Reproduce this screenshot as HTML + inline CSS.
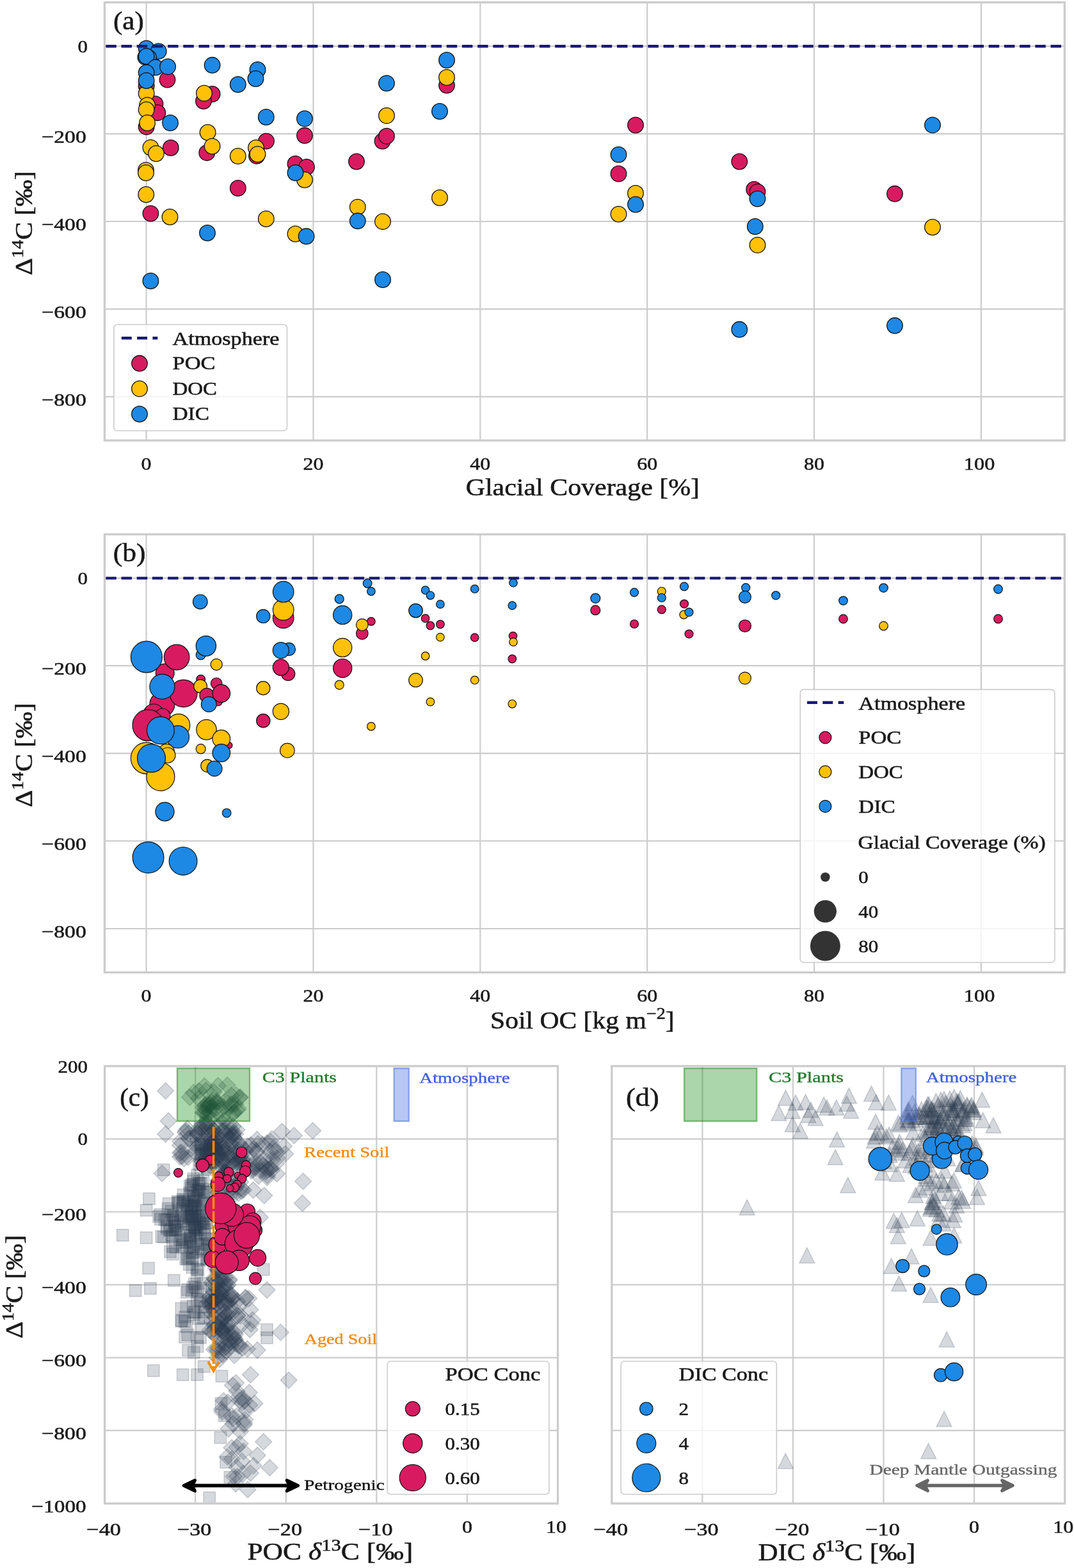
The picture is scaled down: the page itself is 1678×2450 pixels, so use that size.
<!DOCTYPE html>
<html><head><meta charset="utf-8"><title>Radiocarbon figure</title>
<style>html,body{margin:0;padding:0;background:#fff;}svg{display:block;}</style></head>
<body><svg width="1678" height="2450" viewBox="0 0 1678 2450" font-family='"Liberation Serif", serif'><line x1="228.6" y1="3.7" x2="228.6" y2="688.2" stroke="#cccccc" stroke-width="2.2"/>
<line x1="489.5" y1="3.7" x2="489.5" y2="688.2" stroke="#cccccc" stroke-width="2.2"/>
<line x1="750.3" y1="3.7" x2="750.3" y2="688.2" stroke="#cccccc" stroke-width="2.2"/>
<line x1="1011.2" y1="3.7" x2="1011.2" y2="688.2" stroke="#cccccc" stroke-width="2.2"/>
<line x1="1272.0" y1="3.7" x2="1272.0" y2="688.2" stroke="#cccccc" stroke-width="2.2"/>
<line x1="1532.9" y1="3.7" x2="1532.9" y2="688.2" stroke="#cccccc" stroke-width="2.2"/>
<line x1="163.4" y1="72.2" x2="1663.3" y2="72.2" stroke="#cccccc" stroke-width="2.2"/>
<line x1="163.4" y1="209.1" x2="1663.3" y2="209.1" stroke="#cccccc" stroke-width="2.2"/>
<line x1="163.4" y1="346.0" x2="1663.3" y2="346.0" stroke="#cccccc" stroke-width="2.2"/>
<line x1="163.4" y1="482.9" x2="1663.3" y2="482.9" stroke="#cccccc" stroke-width="2.2"/>
<line x1="163.4" y1="619.8" x2="1663.3" y2="619.8" stroke="#cccccc" stroke-width="2.2"/>
<text x="228.6" y="733.5" font-size="28" text-anchor="middle" font-weight="normal" fill="#1a1a1a" stroke="#1a1a1a" stroke-width="0.55" textLength="16.0" lengthAdjust="spacingAndGlyphs" >0</text>
<text x="489.5" y="733.5" font-size="28" text-anchor="middle" font-weight="normal" fill="#1a1a1a" stroke="#1a1a1a" stroke-width="0.55" textLength="32.0" lengthAdjust="spacingAndGlyphs" >20</text>
<text x="750.3" y="733.5" font-size="28" text-anchor="middle" font-weight="normal" fill="#1a1a1a" stroke="#1a1a1a" stroke-width="0.55" textLength="32.0" lengthAdjust="spacingAndGlyphs" >40</text>
<text x="1011.2" y="733.5" font-size="28" text-anchor="middle" font-weight="normal" fill="#1a1a1a" stroke="#1a1a1a" stroke-width="0.55" textLength="32.0" lengthAdjust="spacingAndGlyphs" >60</text>
<text x="1272.0" y="733.5" font-size="28" text-anchor="middle" font-weight="normal" fill="#1a1a1a" stroke="#1a1a1a" stroke-width="0.55" textLength="32.0" lengthAdjust="spacingAndGlyphs" >80</text>
<text x="1530.1" y="733.5" font-size="28" text-anchor="middle" font-weight="normal" fill="#1a1a1a" stroke="#1a1a1a" stroke-width="0.55" textLength="48.5" lengthAdjust="spacingAndGlyphs" >100</text>
<text x="137.0" y="82.0" font-size="28" text-anchor="end" font-weight="normal" fill="#1a1a1a" stroke="#1a1a1a" stroke-width="0.55" textLength="15.5" lengthAdjust="spacingAndGlyphs" >0</text>
<text x="134.8" y="223.0" font-size="28" text-anchor="end" font-weight="normal" fill="#1a1a1a" stroke="#1a1a1a" stroke-width="0.55" textLength="69.6" lengthAdjust="spacingAndGlyphs" >−200</text>
<text x="134.8" y="359.9" font-size="28" text-anchor="end" font-weight="normal" fill="#1a1a1a" stroke="#1a1a1a" stroke-width="0.55" textLength="69.6" lengthAdjust="spacingAndGlyphs" >−400</text>
<text x="134.8" y="496.8" font-size="28" text-anchor="end" font-weight="normal" fill="#1a1a1a" stroke="#1a1a1a" stroke-width="0.55" textLength="69.6" lengthAdjust="spacingAndGlyphs" >−600</text>
<text x="134.8" y="633.7" font-size="28" text-anchor="end" font-weight="normal" fill="#1a1a1a" stroke="#1a1a1a" stroke-width="0.55" textLength="69.6" lengthAdjust="spacingAndGlyphs" >−800</text>
<line x1="228.6" y1="834.9" x2="228.6" y2="1519.4" stroke="#cccccc" stroke-width="2.2"/>
<line x1="489.5" y1="834.9" x2="489.5" y2="1519.4" stroke="#cccccc" stroke-width="2.2"/>
<line x1="750.3" y1="834.9" x2="750.3" y2="1519.4" stroke="#cccccc" stroke-width="2.2"/>
<line x1="1011.2" y1="834.9" x2="1011.2" y2="1519.4" stroke="#cccccc" stroke-width="2.2"/>
<line x1="1272.0" y1="834.9" x2="1272.0" y2="1519.4" stroke="#cccccc" stroke-width="2.2"/>
<line x1="1532.9" y1="834.9" x2="1532.9" y2="1519.4" stroke="#cccccc" stroke-width="2.2"/>
<line x1="163.4" y1="903.4" x2="1663.3" y2="903.4" stroke="#cccccc" stroke-width="2.2"/>
<line x1="163.4" y1="1040.2" x2="1663.3" y2="1040.2" stroke="#cccccc" stroke-width="2.2"/>
<line x1="163.4" y1="1177.2" x2="1663.3" y2="1177.2" stroke="#cccccc" stroke-width="2.2"/>
<line x1="163.4" y1="1314.0" x2="1663.3" y2="1314.0" stroke="#cccccc" stroke-width="2.2"/>
<line x1="163.4" y1="1451.0" x2="1663.3" y2="1451.0" stroke="#cccccc" stroke-width="2.2"/>
<text x="228.6" y="1564.7" font-size="28" text-anchor="middle" font-weight="normal" fill="#1a1a1a" stroke="#1a1a1a" stroke-width="0.55" textLength="16.0" lengthAdjust="spacingAndGlyphs" >0</text>
<text x="489.5" y="1564.7" font-size="28" text-anchor="middle" font-weight="normal" fill="#1a1a1a" stroke="#1a1a1a" stroke-width="0.55" textLength="32.0" lengthAdjust="spacingAndGlyphs" >20</text>
<text x="750.3" y="1564.7" font-size="28" text-anchor="middle" font-weight="normal" fill="#1a1a1a" stroke="#1a1a1a" stroke-width="0.55" textLength="32.0" lengthAdjust="spacingAndGlyphs" >40</text>
<text x="1011.2" y="1564.7" font-size="28" text-anchor="middle" font-weight="normal" fill="#1a1a1a" stroke="#1a1a1a" stroke-width="0.55" textLength="32.0" lengthAdjust="spacingAndGlyphs" >60</text>
<text x="1272.0" y="1564.7" font-size="28" text-anchor="middle" font-weight="normal" fill="#1a1a1a" stroke="#1a1a1a" stroke-width="0.55" textLength="32.0" lengthAdjust="spacingAndGlyphs" >80</text>
<text x="1530.1" y="1564.7" font-size="28" text-anchor="middle" font-weight="normal" fill="#1a1a1a" stroke="#1a1a1a" stroke-width="0.55" textLength="48.5" lengthAdjust="spacingAndGlyphs" >100</text>
<text x="137.0" y="913.1" font-size="28" text-anchor="end" font-weight="normal" fill="#1a1a1a" stroke="#1a1a1a" stroke-width="0.55" textLength="15.5" lengthAdjust="spacingAndGlyphs" >0</text>
<text x="134.8" y="1054.2" font-size="28" text-anchor="end" font-weight="normal" fill="#1a1a1a" stroke="#1a1a1a" stroke-width="0.55" textLength="69.6" lengthAdjust="spacingAndGlyphs" >−200</text>
<text x="134.8" y="1191.1" font-size="28" text-anchor="end" font-weight="normal" fill="#1a1a1a" stroke="#1a1a1a" stroke-width="0.55" textLength="69.6" lengthAdjust="spacingAndGlyphs" >−400</text>
<text x="134.8" y="1328.0" font-size="28" text-anchor="end" font-weight="normal" fill="#1a1a1a" stroke="#1a1a1a" stroke-width="0.55" textLength="69.6" lengthAdjust="spacingAndGlyphs" >−600</text>
<text x="134.8" y="1464.9" font-size="28" text-anchor="end" font-weight="normal" fill="#1a1a1a" stroke="#1a1a1a" stroke-width="0.55" textLength="69.6" lengthAdjust="spacingAndGlyphs" >−800</text>
<circle cx="261.5" cy="124.6" r="12.3" fill="#D81B60" stroke="#111" stroke-width="1.3"/>
<circle cx="228.7" cy="134.2" r="12.3" fill="#D81B60" stroke="#111" stroke-width="1.3"/>
<circle cx="242.5" cy="162.4" r="12.3" fill="#D81B60" stroke="#111" stroke-width="1.3"/>
<circle cx="246.3" cy="176.2" r="12.3" fill="#D81B60" stroke="#111" stroke-width="1.3"/>
<circle cx="228.7" cy="198.2" r="12.3" fill="#D81B60" stroke="#111" stroke-width="1.3"/>
<circle cx="331.6" cy="147.0" r="12.3" fill="#D81B60" stroke="#111" stroke-width="1.3"/>
<circle cx="318.0" cy="158.0" r="12.3" fill="#D81B60" stroke="#111" stroke-width="1.3"/>
<circle cx="476.0" cy="211.8" r="12.3" fill="#D81B60" stroke="#111" stroke-width="1.3"/>
<circle cx="416.0" cy="220.6" r="12.3" fill="#D81B60" stroke="#111" stroke-width="1.3"/>
<circle cx="401.0" cy="243.7" r="12.3" fill="#D81B60" stroke="#111" stroke-width="1.3"/>
<circle cx="323.3" cy="238.7" r="12.3" fill="#D81B60" stroke="#111" stroke-width="1.3"/>
<circle cx="266.8" cy="231.0" r="12.3" fill="#D81B60" stroke="#111" stroke-width="1.3"/>
<circle cx="461.5" cy="256.0" r="12.3" fill="#D81B60" stroke="#111" stroke-width="1.3"/>
<circle cx="479.0" cy="261.0" r="12.3" fill="#D81B60" stroke="#111" stroke-width="1.3"/>
<circle cx="557.0" cy="252.5" r="12.3" fill="#D81B60" stroke="#111" stroke-width="1.3"/>
<circle cx="371.8" cy="294.0" r="12.3" fill="#D81B60" stroke="#111" stroke-width="1.3"/>
<circle cx="235.4" cy="333.6" r="12.3" fill="#D81B60" stroke="#111" stroke-width="1.3"/>
<circle cx="597.5" cy="220.6" r="12.3" fill="#D81B60" stroke="#111" stroke-width="1.3"/>
<circle cx="604.0" cy="212.7" r="12.3" fill="#D81B60" stroke="#111" stroke-width="1.3"/>
<circle cx="698.0" cy="133.3" r="12.3" fill="#D81B60" stroke="#111" stroke-width="1.3"/>
<circle cx="993.0" cy="195.5" r="12.3" fill="#D81B60" stroke="#111" stroke-width="1.3"/>
<circle cx="966.5" cy="271.5" r="12.3" fill="#D81B60" stroke="#111" stroke-width="1.3"/>
<circle cx="1155.3" cy="252.5" r="12.3" fill="#D81B60" stroke="#111" stroke-width="1.3"/>
<circle cx="1178.2" cy="295.9" r="12.3" fill="#D81B60" stroke="#111" stroke-width="1.3"/>
<circle cx="1183.5" cy="299.6" r="12.3" fill="#D81B60" stroke="#111" stroke-width="1.3"/>
<circle cx="1398.0" cy="302.8" r="12.3" fill="#D81B60" stroke="#111" stroke-width="1.3"/>
<circle cx="228.7" cy="145.9" r="12.3" fill="#FFC107" stroke="#111" stroke-width="1.3"/>
<circle cx="230.1" cy="164.5" r="12.3" fill="#FFC107" stroke="#111" stroke-width="1.3"/>
<circle cx="228.7" cy="171.4" r="12.3" fill="#FFC107" stroke="#111" stroke-width="1.3"/>
<circle cx="230.1" cy="192.0" r="12.3" fill="#FFC107" stroke="#111" stroke-width="1.3"/>
<circle cx="319.0" cy="145.7" r="12.3" fill="#FFC107" stroke="#111" stroke-width="1.3"/>
<circle cx="324.6" cy="207.0" r="12.3" fill="#FFC107" stroke="#111" stroke-width="1.3"/>
<circle cx="331.6" cy="228.6" r="12.3" fill="#FFC107" stroke="#111" stroke-width="1.3"/>
<circle cx="371.8" cy="244.0" r="12.3" fill="#FFC107" stroke="#111" stroke-width="1.3"/>
<circle cx="400.0" cy="231.0" r="12.3" fill="#FFC107" stroke="#111" stroke-width="1.3"/>
<circle cx="402.5" cy="241.0" r="12.3" fill="#FFC107" stroke="#111" stroke-width="1.3"/>
<circle cx="235.4" cy="230.6" r="12.3" fill="#FFC107" stroke="#111" stroke-width="1.3"/>
<circle cx="244.0" cy="240.0" r="12.3" fill="#FFC107" stroke="#111" stroke-width="1.3"/>
<circle cx="476.0" cy="281.0" r="12.3" fill="#FFC107" stroke="#111" stroke-width="1.3"/>
<circle cx="228.0" cy="266.0" r="12.3" fill="#FFC107" stroke="#111" stroke-width="1.3"/>
<circle cx="228.0" cy="270.0" r="12.3" fill="#FFC107" stroke="#111" stroke-width="1.3"/>
<circle cx="228.3" cy="304.0" r="12.3" fill="#FFC107" stroke="#111" stroke-width="1.3"/>
<circle cx="265.5" cy="339.0" r="12.3" fill="#FFC107" stroke="#111" stroke-width="1.3"/>
<circle cx="415.8" cy="342.0" r="12.3" fill="#FFC107" stroke="#111" stroke-width="1.3"/>
<circle cx="461.5" cy="365.5" r="12.3" fill="#FFC107" stroke="#111" stroke-width="1.3"/>
<circle cx="604.0" cy="180.7" r="12.3" fill="#FFC107" stroke="#111" stroke-width="1.3"/>
<circle cx="558.8" cy="323.6" r="12.3" fill="#FFC107" stroke="#111" stroke-width="1.3"/>
<circle cx="598.0" cy="346.2" r="12.3" fill="#FFC107" stroke="#111" stroke-width="1.3"/>
<circle cx="698.0" cy="121.0" r="12.3" fill="#FFC107" stroke="#111" stroke-width="1.3"/>
<circle cx="687.0" cy="309.0" r="12.3" fill="#FFC107" stroke="#111" stroke-width="1.3"/>
<circle cx="993.0" cy="302.0" r="12.3" fill="#FFC107" stroke="#111" stroke-width="1.3"/>
<circle cx="966.5" cy="334.6" r="12.3" fill="#FFC107" stroke="#111" stroke-width="1.3"/>
<circle cx="1183.5" cy="382.9" r="12.3" fill="#FFC107" stroke="#111" stroke-width="1.3"/>
<circle cx="1457.0" cy="355.0" r="12.3" fill="#FFC107" stroke="#111" stroke-width="1.3"/>
<circle cx="228.7" cy="75.7" r="12.3" fill="#1E88E5" stroke="#111" stroke-width="1.3"/>
<circle cx="247.7" cy="80.1" r="12.3" fill="#1E88E5" stroke="#111" stroke-width="1.3"/>
<circle cx="227.4" cy="89.4" r="12.3" fill="#1E88E5" stroke="#111" stroke-width="1.3"/>
<circle cx="232.2" cy="90.1" r="12.3" fill="#1E88E5" stroke="#111" stroke-width="1.3"/>
<circle cx="228.7" cy="88.0" r="12.3" fill="#1E88E5" stroke="#111" stroke-width="1.3"/>
<circle cx="243.2" cy="105.3" r="12.3" fill="#1E88E5" stroke="#111" stroke-width="1.3"/>
<circle cx="262.1" cy="104.2" r="12.3" fill="#1E88E5" stroke="#111" stroke-width="1.3"/>
<circle cx="228.7" cy="113.5" r="12.3" fill="#1E88E5" stroke="#111" stroke-width="1.3"/>
<circle cx="228.7" cy="126.0" r="12.3" fill="#1E88E5" stroke="#111" stroke-width="1.3"/>
<circle cx="266.0" cy="192.0" r="12.3" fill="#1E88E5" stroke="#111" stroke-width="1.3"/>
<circle cx="331.6" cy="101.8" r="12.3" fill="#1E88E5" stroke="#111" stroke-width="1.3"/>
<circle cx="371.8" cy="132.0" r="12.3" fill="#1E88E5" stroke="#111" stroke-width="1.3"/>
<circle cx="402.5" cy="109.0" r="12.3" fill="#1E88E5" stroke="#111" stroke-width="1.3"/>
<circle cx="399.5" cy="123.0" r="12.3" fill="#1E88E5" stroke="#111" stroke-width="1.3"/>
<circle cx="415.8" cy="183.0" r="12.3" fill="#1E88E5" stroke="#111" stroke-width="1.3"/>
<circle cx="476.0" cy="185.4" r="12.3" fill="#1E88E5" stroke="#111" stroke-width="1.3"/>
<circle cx="461.5" cy="270.0" r="12.3" fill="#1E88E5" stroke="#111" stroke-width="1.3"/>
<circle cx="478.6" cy="369.3" r="12.3" fill="#1E88E5" stroke="#111" stroke-width="1.3"/>
<circle cx="324.0" cy="364.0" r="12.3" fill="#1E88E5" stroke="#111" stroke-width="1.3"/>
<circle cx="235.4" cy="439.0" r="12.3" fill="#1E88E5" stroke="#111" stroke-width="1.3"/>
<circle cx="604.0" cy="130.1" r="12.3" fill="#1E88E5" stroke="#111" stroke-width="1.3"/>
<circle cx="698.0" cy="94.0" r="12.3" fill="#1E88E5" stroke="#111" stroke-width="1.3"/>
<circle cx="687.0" cy="174.0" r="12.3" fill="#1E88E5" stroke="#111" stroke-width="1.3"/>
<circle cx="558.8" cy="345.3" r="12.3" fill="#1E88E5" stroke="#111" stroke-width="1.3"/>
<circle cx="598.0" cy="437.0" r="12.3" fill="#1E88E5" stroke="#111" stroke-width="1.3"/>
<circle cx="966.5" cy="241.6" r="12.3" fill="#1E88E5" stroke="#111" stroke-width="1.3"/>
<circle cx="993.0" cy="319.5" r="12.3" fill="#1E88E5" stroke="#111" stroke-width="1.3"/>
<circle cx="1183.5" cy="310.6" r="12.3" fill="#1E88E5" stroke="#111" stroke-width="1.3"/>
<circle cx="1179.8" cy="354.0" r="12.3" fill="#1E88E5" stroke="#111" stroke-width="1.3"/>
<circle cx="1155.3" cy="514.8" r="12.3" fill="#1E88E5" stroke="#111" stroke-width="1.3"/>
<circle cx="1457.0" cy="195.4" r="12.3" fill="#1E88E5" stroke="#111" stroke-width="1.3"/>
<circle cx="1398.0" cy="508.8" r="12.3" fill="#1E88E5" stroke="#111" stroke-width="1.3"/>
<line x1="165.3" y1="72.2" x2="1662" y2="72.2" stroke="#191970" stroke-width="4.4" stroke-dasharray="16.5 7.7"/>
<rect x="177.9" y="507.2" width="270.6" height="165.8" rx="5" fill="#ffffff" fill-opacity="0.8" stroke="#cccccc" stroke-width="1.6"/>
<line x1="189.8" y1="528.3" x2="246.3" y2="528.3" stroke="#191970" stroke-width="4.6" stroke-dasharray="16 8.3"/>
<circle cx="218.0" cy="567.8" r="12.3" fill="#D81B60" stroke="#111" stroke-width="1.3"/>
<circle cx="218.0" cy="607.4" r="12.3" fill="#FFC107" stroke="#111" stroke-width="1.3"/>
<circle cx="218.0" cy="647.0" r="12.3" fill="#1E88E5" stroke="#111" stroke-width="1.3"/>
<text x="269.5" y="538.6" font-size="30" text-anchor="start" font-weight="normal" fill="#1a1a1a" stroke="#1a1a1a" stroke-width="0.55" textLength="167.0" lengthAdjust="spacingAndGlyphs" >Atmosphere</text>
<text x="269.5" y="577.3" font-size="30" text-anchor="start" font-weight="normal" fill="#1a1a1a" stroke="#1a1a1a" stroke-width="0.55" textLength="67.0" lengthAdjust="spacingAndGlyphs" >POC</text>
<text x="269.5" y="616.8" font-size="30" text-anchor="start" font-weight="normal" fill="#1a1a1a" stroke="#1a1a1a" stroke-width="0.55" textLength="69.5" lengthAdjust="spacingAndGlyphs" >DOC</text>
<text x="269.5" y="656.4" font-size="30" text-anchor="start" font-weight="normal" fill="#1a1a1a" stroke="#1a1a1a" stroke-width="0.55" textLength="57.5" lengthAdjust="spacingAndGlyphs" >DIC</text>
<circle cx="257.8" cy="1051.5" r="14.4" fill="#D81B60" stroke="#111" stroke-width="1.2"/>
<circle cx="228.9" cy="1026.4" r="24.5" fill="#1E88E5" stroke="#111" stroke-width="1.2"/>
<circle cx="276.1" cy="1027.0" r="19.8" fill="#D81B60" stroke="#111" stroke-width="1.2"/>
<circle cx="253.4" cy="1100.5" r="19.5" fill="#D81B60" stroke="#111" stroke-width="1.2"/>
<circle cx="286.7" cy="1083.5" r="21.4" fill="#D81B60" stroke="#111" stroke-width="1.2"/>
<circle cx="253.4" cy="1072.9" r="19.5" fill="#1E88E5" stroke="#111" stroke-width="1.2"/>
<circle cx="240.0" cy="1116.0" r="16.0" fill="#D81B60" stroke="#111" stroke-width="1.2"/>
<circle cx="254.0" cy="1119.0" r="12.0" fill="#D81B60" stroke="#111" stroke-width="1.2"/>
<circle cx="231.5" cy="1133.2" r="24.5" fill="#D81B60" stroke="#111" stroke-width="1.2"/>
<circle cx="279.2" cy="1133.2" r="17.6" fill="#FFC107" stroke="#111" stroke-width="1.2"/>
<circle cx="277.9" cy="1151.4" r="17.6" fill="#1E88E5" stroke="#111" stroke-width="1.2"/>
<circle cx="250.9" cy="1141.3" r="21.4" fill="#1E88E5" stroke="#111" stroke-width="1.2"/>
<circle cx="260.0" cy="1175.0" r="12.6" fill="#FFC107" stroke="#111" stroke-width="1.2"/>
<circle cx="262.0" cy="1180.0" r="12.0" fill="#FFC107" stroke="#111" stroke-width="1.2"/>
<circle cx="228.9" cy="1184.7" r="24.5" fill="#FFC107" stroke="#111" stroke-width="1.2"/>
<circle cx="250.9" cy="1213.6" r="22.0" fill="#FFC107" stroke="#111" stroke-width="1.2"/>
<circle cx="236.5" cy="1184.7" r="22.0" fill="#1E88E5" stroke="#111" stroke-width="1.2"/>
<circle cx="313.7" cy="1023.2" r="7.5" fill="#1E88E5" stroke="#111" stroke-width="1.2"/>
<circle cx="321.9" cy="1009.4" r="15.7" fill="#1E88E5" stroke="#111" stroke-width="1.2"/>
<circle cx="338.2" cy="1038.3" r="9.0" fill="#FFC107" stroke="#111" stroke-width="1.2"/>
<circle cx="313.7" cy="1061.6" r="6.9" fill="#D81B60" stroke="#111" stroke-width="1.2"/>
<circle cx="313.1" cy="1072.2" r="10.4" fill="#FFC107" stroke="#111" stroke-width="1.2"/>
<circle cx="338.2" cy="1067.8" r="8.8" fill="#D81B60" stroke="#111" stroke-width="1.2"/>
<circle cx="340.0" cy="1095.0" r="8.0" fill="#D81B60" stroke="#111" stroke-width="1.2"/>
<circle cx="323.2" cy="1086.7" r="11.3" fill="#D81B60" stroke="#111" stroke-width="1.2"/>
<circle cx="345.8" cy="1083.5" r="13.8" fill="#D81B60" stroke="#111" stroke-width="1.2"/>
<circle cx="326.3" cy="1100.5" r="11.9" fill="#1E88E5" stroke="#111" stroke-width="1.2"/>
<circle cx="322.5" cy="1140.1" r="15.7" fill="#FFC107" stroke="#111" stroke-width="1.2"/>
<circle cx="358.0" cy="1164.6" r="5.0" fill="#D81B60" stroke="#111" stroke-width="1.2"/>
<circle cx="345.8" cy="1154.5" r="13.8" fill="#FFC107" stroke="#111" stroke-width="1.2"/>
<circle cx="313.7" cy="1170.2" r="7.5" fill="#FFC107" stroke="#111" stroke-width="1.2"/>
<circle cx="345.8" cy="1176.5" r="13.8" fill="#1E88E5" stroke="#111" stroke-width="1.2"/>
<circle cx="323.8" cy="1196.6" r="10.0" fill="#FFC107" stroke="#111" stroke-width="1.2"/>
<circle cx="335.1" cy="1201.0" r="11.9" fill="#1E88E5" stroke="#111" stroke-width="1.2"/>
<circle cx="257.5" cy="1268.2" r="14.6" fill="#1E88E5" stroke="#111" stroke-width="1.2"/>
<circle cx="354.2" cy="1270.3" r="6.8" fill="#1E88E5" stroke="#111" stroke-width="1.2"/>
<circle cx="231.6" cy="1339.8" r="24.4" fill="#1E88E5" stroke="#111" stroke-width="1.2"/>
<circle cx="286.1" cy="1345.4" r="21.9" fill="#1E88E5" stroke="#111" stroke-width="1.2"/>
<circle cx="312.8" cy="940.3" r="11.3" fill="#1E88E5" stroke="#111" stroke-width="1.2"/>
<circle cx="442.7" cy="965.4" r="16.3" fill="#D81B60" stroke="#111" stroke-width="1.2"/>
<circle cx="442.7" cy="952.9" r="16.3" fill="#FFC107" stroke="#111" stroke-width="1.2"/>
<circle cx="442.7" cy="924.7" r="16.3" fill="#1E88E5" stroke="#111" stroke-width="1.2"/>
<circle cx="411.3" cy="962.9" r="10.6" fill="#1E88E5" stroke="#111" stroke-width="1.2"/>
<circle cx="451.5" cy="1014.4" r="10.0" fill="#1E88E5" stroke="#111" stroke-width="1.2"/>
<circle cx="438.9" cy="1016.2" r="12.6" fill="#1E88E5" stroke="#111" stroke-width="1.2"/>
<circle cx="450.2" cy="1052.9" r="10.6" fill="#D81B60" stroke="#111" stroke-width="1.2"/>
<circle cx="438.9" cy="1042.8" r="12.6" fill="#D81B60" stroke="#111" stroke-width="1.2"/>
<circle cx="411.3" cy="1075.2" r="10.6" fill="#FFC107" stroke="#111" stroke-width="1.2"/>
<circle cx="438.9" cy="1111.7" r="12.6" fill="#FFC107" stroke="#111" stroke-width="1.2"/>
<circle cx="411.3" cy="1126.2" r="10.6" fill="#D81B60" stroke="#111" stroke-width="1.2"/>
<circle cx="448.9" cy="1172.7" r="11.3" fill="#FFC107" stroke="#111" stroke-width="1.2"/>
<circle cx="530.2" cy="935.8" r="7.0" fill="#1E88E5" stroke="#111" stroke-width="1.2"/>
<circle cx="535.2" cy="960.9" r="14.6" fill="#1E88E5" stroke="#111" stroke-width="1.2"/>
<circle cx="535.2" cy="1011.9" r="14.6" fill="#FFC107" stroke="#111" stroke-width="1.2"/>
<circle cx="535.2" cy="1044.1" r="14.6" fill="#D81B60" stroke="#111" stroke-width="1.2"/>
<circle cx="530.2" cy="1070.2" r="7.0" fill="#FFC107" stroke="#111" stroke-width="1.2"/>
<circle cx="574.1" cy="911.4" r="6.8" fill="#1E88E5" stroke="#111" stroke-width="1.2"/>
<circle cx="579.9" cy="924.0" r="6.3" fill="#1E88E5" stroke="#111" stroke-width="1.2"/>
<circle cx="565.8" cy="989.8" r="9.3" fill="#D81B60" stroke="#111" stroke-width="1.2"/>
<circle cx="579.9" cy="971.0" r="6.3" fill="#D81B60" stroke="#111" stroke-width="1.2"/>
<circle cx="565.8" cy="976.2" r="9.3" fill="#FFC107" stroke="#111" stroke-width="1.2"/>
<circle cx="579.9" cy="1135.0" r="6.3" fill="#FFC107" stroke="#111" stroke-width="1.2"/>
<circle cx="664.6" cy="922.2" r="6.3" fill="#1E88E5" stroke="#111" stroke-width="1.2"/>
<circle cx="672.4" cy="930.3" r="6.3" fill="#1E88E5" stroke="#111" stroke-width="1.2"/>
<circle cx="649.5" cy="954.1" r="10.8" fill="#1E88E5" stroke="#111" stroke-width="1.2"/>
<circle cx="664.6" cy="966.2" r="6.3" fill="#D81B60" stroke="#111" stroke-width="1.2"/>
<circle cx="672.4" cy="977.5" r="6.3" fill="#D81B60" stroke="#111" stroke-width="1.2"/>
<circle cx="687.9" cy="944.1" r="6.3" fill="#1E88E5" stroke="#111" stroke-width="1.2"/>
<circle cx="687.9" cy="975.5" r="6.3" fill="#D81B60" stroke="#111" stroke-width="1.2"/>
<circle cx="687.9" cy="995.6" r="6.3" fill="#FFC107" stroke="#111" stroke-width="1.2"/>
<circle cx="664.6" cy="1025.0" r="6.3" fill="#FFC107" stroke="#111" stroke-width="1.2"/>
<circle cx="649.5" cy="1062.7" r="10.8" fill="#FFC107" stroke="#111" stroke-width="1.2"/>
<circle cx="672.4" cy="1096.6" r="6.3" fill="#FFC107" stroke="#111" stroke-width="1.2"/>
<circle cx="741.7" cy="920.2" r="6.3" fill="#1E88E5" stroke="#111" stroke-width="1.2"/>
<circle cx="741.7" cy="996.1" r="6.3" fill="#D81B60" stroke="#111" stroke-width="1.2"/>
<circle cx="741.7" cy="1062.7" r="6.3" fill="#FFC107" stroke="#111" stroke-width="1.2"/>
<circle cx="802.0" cy="910.7" r="6.3" fill="#1E88E5" stroke="#111" stroke-width="1.2"/>
<circle cx="800.3" cy="946.1" r="6.3" fill="#1E88E5" stroke="#111" stroke-width="1.2"/>
<circle cx="801.5" cy="993.6" r="6.3" fill="#D81B60" stroke="#111" stroke-width="1.2"/>
<circle cx="802.0" cy="1003.1" r="6.3" fill="#FFC107" stroke="#111" stroke-width="1.2"/>
<circle cx="800.3" cy="1029.5" r="6.3" fill="#D81B60" stroke="#111" stroke-width="1.2"/>
<circle cx="800.3" cy="1099.8" r="6.3" fill="#FFC107" stroke="#111" stroke-width="1.2"/>
<circle cx="930.3" cy="934.8" r="7.5" fill="#1E88E5" stroke="#111" stroke-width="1.2"/>
<circle cx="930.3" cy="953.4" r="7.5" fill="#D81B60" stroke="#111" stroke-width="1.2"/>
<circle cx="991.0" cy="925.7" r="6.5" fill="#1E88E5" stroke="#111" stroke-width="1.2"/>
<circle cx="991.0" cy="975.0" r="6.5" fill="#D81B60" stroke="#111" stroke-width="1.2"/>
<circle cx="1033.8" cy="924.0" r="6.5" fill="#FFC107" stroke="#111" stroke-width="1.2"/>
<circle cx="1033.8" cy="934.0" r="6.5" fill="#1E88E5" stroke="#111" stroke-width="1.2"/>
<circle cx="1033.8" cy="952.4" r="6.5" fill="#D81B60" stroke="#111" stroke-width="1.2"/>
<circle cx="1069.0" cy="916.4" r="6.5" fill="#1E88E5" stroke="#111" stroke-width="1.2"/>
<circle cx="1069.0" cy="943.6" r="6.5" fill="#D81B60" stroke="#111" stroke-width="1.2"/>
<circle cx="1068.4" cy="960.4" r="6.5" fill="#FFC107" stroke="#111" stroke-width="1.2"/>
<circle cx="1076.5" cy="956.6" r="6.5" fill="#1E88E5" stroke="#111" stroke-width="1.2"/>
<circle cx="1076.5" cy="990.6" r="6.5" fill="#D81B60" stroke="#111" stroke-width="1.2"/>
<circle cx="1165.2" cy="918.2" r="6.5" fill="#1E88E5" stroke="#111" stroke-width="1.2"/>
<circle cx="1163.9" cy="932.8" r="9.5" fill="#1E88E5" stroke="#111" stroke-width="1.2"/>
<circle cx="1163.9" cy="978.0" r="9.5" fill="#D81B60" stroke="#111" stroke-width="1.2"/>
<circle cx="1163.9" cy="1059.6" r="9.5" fill="#FFC107" stroke="#111" stroke-width="1.2"/>
<circle cx="1212.2" cy="930.3" r="6.5" fill="#1E88E5" stroke="#111" stroke-width="1.2"/>
<circle cx="1317.5" cy="938.6" r="6.8" fill="#1E88E5" stroke="#111" stroke-width="1.2"/>
<circle cx="1317.5" cy="967.0" r="6.8" fill="#D81B60" stroke="#111" stroke-width="1.2"/>
<circle cx="1380.5" cy="918.6" r="6.8" fill="#1E88E5" stroke="#111" stroke-width="1.2"/>
<circle cx="1380.5" cy="978.0" r="6.8" fill="#FFC107" stroke="#111" stroke-width="1.2"/>
<circle cx="1559.5" cy="920.5" r="6.8" fill="#1E88E5" stroke="#111" stroke-width="1.2"/>
<circle cx="1559.5" cy="967.0" r="6.8" fill="#D81B60" stroke="#111" stroke-width="1.2"/>
<line x1="165.3" y1="903.4" x2="1662" y2="903.4" stroke="#191970" stroke-width="4.4" stroke-dasharray="16.5 7.7"/>
<rect x="1250.3" y="1077.4" width="397.6" height="426.3" rx="5" fill="#ffffff" fill-opacity="0.8" stroke="#cccccc" stroke-width="1.6"/>
<line x1="1261" y1="1097.8" x2="1318.3" y2="1097.8" stroke="#191970" stroke-width="4.6" stroke-dasharray="16 8.3"/>
<circle cx="1289.4" cy="1152.4" r="9.5" fill="#D81B60" stroke="#111" stroke-width="1.2"/>
<circle cx="1289.4" cy="1205.9" r="9.5" fill="#FFC107" stroke="#111" stroke-width="1.2"/>
<circle cx="1289.4" cy="1259.9" r="9.5" fill="#1E88E5" stroke="#111" stroke-width="1.2"/>
<text x="1341.3" y="1109.2" font-size="30" text-anchor="start" font-weight="normal" fill="#1a1a1a" stroke="#1a1a1a" stroke-width="0.55" textLength="167.0" lengthAdjust="spacingAndGlyphs" >Atmosphere</text>
<text x="1341.3" y="1161.8" font-size="30" text-anchor="start" font-weight="normal" fill="#1a1a1a" stroke="#1a1a1a" stroke-width="0.55" textLength="67.0" lengthAdjust="spacingAndGlyphs" >POC</text>
<text x="1341.3" y="1215.9" font-size="30" text-anchor="start" font-weight="normal" fill="#1a1a1a" stroke="#1a1a1a" stroke-width="0.55" textLength="69.5" lengthAdjust="spacingAndGlyphs" >DOC</text>
<text x="1341.3" y="1269.9" font-size="30" text-anchor="start" font-weight="normal" fill="#1a1a1a" stroke="#1a1a1a" stroke-width="0.55" textLength="57.5" lengthAdjust="spacingAndGlyphs" >DIC</text>
<text x="1340.5" y="1325.9" font-size="30" text-anchor="start" font-weight="normal" fill="#1a1a1a" stroke="#1a1a1a" stroke-width="0.55" textLength="293.3" lengthAdjust="spacingAndGlyphs" >Glacial Coverage (%)</text>
<circle cx="1289.4" cy="1370.5" r="7.3" fill="#333333" stroke="#111" stroke-width="0"/>
<text x="1341.3" y="1380.1" font-size="28" text-anchor="start" font-weight="normal" fill="#1a1a1a" stroke="#1a1a1a" stroke-width="0.55" textLength="15.5" lengthAdjust="spacingAndGlyphs" >0</text>
<circle cx="1289.4" cy="1424.0" r="17.6" fill="#333333" stroke="#111" stroke-width="0"/>
<text x="1341.3" y="1433.6" font-size="28" text-anchor="start" font-weight="normal" fill="#1a1a1a" stroke="#1a1a1a" stroke-width="0.55" textLength="31.0" lengthAdjust="spacingAndGlyphs" >40</text>
<circle cx="1289.4" cy="1478.0" r="23.5" fill="#333333" stroke="#111" stroke-width="0"/>
<text x="1341.3" y="1487.6" font-size="28" text-anchor="start" font-weight="normal" fill="#1a1a1a" stroke="#1a1a1a" stroke-width="0.55" textLength="31.0" lengthAdjust="spacingAndGlyphs" >80</text>
<text x="177.0" y="45.6" font-size="40" fill="#1a1a1a" stroke="#1a1a1a" stroke-width="0.55" textLength="47.8" lengthAdjust="spacingAndGlyphs">(a)</text>
<text x="176.7" y="876.8" font-size="40" fill="#1a1a1a" stroke="#1a1a1a" stroke-width="0.55" textLength="50.9" lengthAdjust="spacingAndGlyphs">(b)</text>
<text transform="translate(50.4,348.5) rotate(-90)" font-size="38" text-anchor="middle" fill="#1a1a1a" stroke="#1a1a1a" stroke-width="0.55" textLength="163.0" lengthAdjust="spacingAndGlyphs">Δ<tspan font-size="26" dy="-14">14</tspan><tspan dy="14">C</tspan> [‰]</text>
<text transform="translate(50.4,1179.7) rotate(-90)" font-size="38" text-anchor="middle" fill="#1a1a1a" stroke="#1a1a1a" stroke-width="0.55" textLength="163.0" lengthAdjust="spacingAndGlyphs">Δ<tspan font-size="26" dy="-14">14</tspan><tspan dy="14">C</tspan> [‰]</text>
<text x="727.7" y="774.4" font-size="37" text-anchor="start" font-weight="normal" fill="#1a1a1a" stroke="#1a1a1a" stroke-width="0.55" textLength="365.4" lengthAdjust="spacingAndGlyphs" >Glacial Coverage [%]</text>
<text x="766" y="1607" font-size="37" fill="#1a1a1a" stroke="#1a1a1a" stroke-width="0.55" textLength="287.6" lengthAdjust="spacingAndGlyphs">Soil OC [kg m<tspan font-size="25" dy="-15">−2</tspan><tspan dy="15">]</tspan></text>
<line x1="305.2" y1="1665.8" x2="305.2" y2="2349.2" stroke="#cccccc" stroke-width="2.2"/>
<line x1="446.8" y1="1665.8" x2="446.8" y2="2349.2" stroke="#cccccc" stroke-width="2.2"/>
<line x1="588.3" y1="1665.8" x2="588.3" y2="2349.2" stroke="#cccccc" stroke-width="2.2"/>
<line x1="729.9" y1="1665.8" x2="729.9" y2="2349.2" stroke="#cccccc" stroke-width="2.2"/>
<line x1="163.6" y1="1779.6" x2="871.5" y2="1779.6" stroke="#cccccc" stroke-width="2.2"/>
<line x1="163.6" y1="1893.5" x2="871.5" y2="1893.5" stroke="#cccccc" stroke-width="2.2"/>
<line x1="163.6" y1="2007.4" x2="871.5" y2="2007.4" stroke="#cccccc" stroke-width="2.2"/>
<line x1="163.6" y1="2121.3" x2="871.5" y2="2121.3" stroke="#cccccc" stroke-width="2.2"/>
<line x1="163.6" y1="2235.2" x2="871.5" y2="2235.2" stroke="#cccccc" stroke-width="2.2"/>
<text x="162.1" y="2398.8" font-size="28" text-anchor="middle" font-weight="normal" fill="#1a1a1a" stroke="#1a1a1a" stroke-width="0.55" textLength="53.5" lengthAdjust="spacingAndGlyphs" >−40</text>
<text x="303.7" y="2398.8" font-size="28" text-anchor="middle" font-weight="normal" fill="#1a1a1a" stroke="#1a1a1a" stroke-width="0.55" textLength="53.5" lengthAdjust="spacingAndGlyphs" >−30</text>
<text x="445.3" y="2398.8" font-size="28" text-anchor="middle" font-weight="normal" fill="#1a1a1a" stroke="#1a1a1a" stroke-width="0.55" textLength="53.5" lengthAdjust="spacingAndGlyphs" >−20</text>
<text x="586.8" y="2398.8" font-size="28" text-anchor="middle" font-weight="normal" fill="#1a1a1a" stroke="#1a1a1a" stroke-width="0.55" textLength="53.5" lengthAdjust="spacingAndGlyphs" >−10</text>
<text x="729.9" y="2395.2" font-size="28" text-anchor="middle" font-weight="normal" fill="#1a1a1a" stroke="#1a1a1a" stroke-width="0.55" textLength="16.0" lengthAdjust="spacingAndGlyphs" >0</text>
<text x="869.0" y="2395.2" font-size="28" text-anchor="middle" font-weight="normal" fill="#1a1a1a" stroke="#1a1a1a" stroke-width="0.55" textLength="32.0" lengthAdjust="spacingAndGlyphs" >10</text>
<line x1="1097.4" y1="1665.8" x2="1097.4" y2="2349.2" stroke="#cccccc" stroke-width="2.2"/>
<line x1="1239.0" y1="1665.8" x2="1239.0" y2="2349.2" stroke="#cccccc" stroke-width="2.2"/>
<line x1="1380.5" y1="1665.8" x2="1380.5" y2="2349.2" stroke="#cccccc" stroke-width="2.2"/>
<line x1="1522.1" y1="1665.8" x2="1522.1" y2="2349.2" stroke="#cccccc" stroke-width="2.2"/>
<line x1="955.8" y1="1779.6" x2="1663.7" y2="1779.6" stroke="#cccccc" stroke-width="2.2"/>
<line x1="955.8" y1="1893.5" x2="1663.7" y2="1893.5" stroke="#cccccc" stroke-width="2.2"/>
<line x1="955.8" y1="2007.4" x2="1663.7" y2="2007.4" stroke="#cccccc" stroke-width="2.2"/>
<line x1="955.8" y1="2121.3" x2="1663.7" y2="2121.3" stroke="#cccccc" stroke-width="2.2"/>
<line x1="955.8" y1="2235.2" x2="1663.7" y2="2235.2" stroke="#cccccc" stroke-width="2.2"/>
<text x="954.3" y="2398.8" font-size="28" text-anchor="middle" font-weight="normal" fill="#1a1a1a" stroke="#1a1a1a" stroke-width="0.55" textLength="53.5" lengthAdjust="spacingAndGlyphs" >−40</text>
<text x="1095.9" y="2398.8" font-size="28" text-anchor="middle" font-weight="normal" fill="#1a1a1a" stroke="#1a1a1a" stroke-width="0.55" textLength="53.5" lengthAdjust="spacingAndGlyphs" >−30</text>
<text x="1237.5" y="2398.8" font-size="28" text-anchor="middle" font-weight="normal" fill="#1a1a1a" stroke="#1a1a1a" stroke-width="0.55" textLength="53.5" lengthAdjust="spacingAndGlyphs" >−20</text>
<text x="1379.0" y="2398.8" font-size="28" text-anchor="middle" font-weight="normal" fill="#1a1a1a" stroke="#1a1a1a" stroke-width="0.55" textLength="53.5" lengthAdjust="spacingAndGlyphs" >−10</text>
<text x="1522.1" y="2395.2" font-size="28" text-anchor="middle" font-weight="normal" fill="#1a1a1a" stroke="#1a1a1a" stroke-width="0.55" textLength="16.0" lengthAdjust="spacingAndGlyphs" >0</text>
<text x="1661.2" y="2395.2" font-size="28" text-anchor="middle" font-weight="normal" fill="#1a1a1a" stroke="#1a1a1a" stroke-width="0.55" textLength="32.0" lengthAdjust="spacingAndGlyphs" >10</text>
<text x="137.0" y="1675.5" font-size="28" text-anchor="end" font-weight="normal" fill="#1a1a1a" stroke="#1a1a1a" stroke-width="0.55" textLength="46.5" lengthAdjust="spacingAndGlyphs" >200</text>
<text x="137.0" y="1789.4" font-size="28" text-anchor="end" font-weight="normal" fill="#1a1a1a" stroke="#1a1a1a" stroke-width="0.55" textLength="15.5" lengthAdjust="spacingAndGlyphs" >0</text>
<text x="134.8" y="1907.4" font-size="28" text-anchor="end" font-weight="normal" fill="#1a1a1a" stroke="#1a1a1a" stroke-width="0.55" textLength="69.6" lengthAdjust="spacingAndGlyphs" >−200</text>
<text x="134.8" y="2021.3" font-size="28" text-anchor="end" font-weight="normal" fill="#1a1a1a" stroke="#1a1a1a" stroke-width="0.55" textLength="69.6" lengthAdjust="spacingAndGlyphs" >−400</text>
<text x="134.8" y="2135.2" font-size="28" text-anchor="end" font-weight="normal" fill="#1a1a1a" stroke="#1a1a1a" stroke-width="0.55" textLength="69.6" lengthAdjust="spacingAndGlyphs" >−600</text>
<text x="134.8" y="2249.1" font-size="28" text-anchor="end" font-weight="normal" fill="#1a1a1a" stroke="#1a1a1a" stroke-width="0.55" textLength="69.6" lengthAdjust="spacingAndGlyphs" >−800</text>
<text x="134.8" y="2363.0" font-size="28" text-anchor="end" font-weight="normal" fill="#1a1a1a" stroke="#1a1a1a" stroke-width="0.55" textLength="85.5" lengthAdjust="spacingAndGlyphs" >−1000</text>
<text transform="translate(34.6,2010.4) rotate(-90)" font-size="38" text-anchor="middle" fill="#1a1a1a" stroke="#1a1a1a" stroke-width="0.55" textLength="161.5" lengthAdjust="spacingAndGlyphs">Δ<tspan font-size="26" dy="-14">14</tspan><tspan dy="14">C</tspan> [‰]</text>
<text x="386.4" y="2436.7" font-size="37" fill="#1a1a1a" stroke="#1a1a1a" stroke-width="0.55" textLength="258.8" lengthAdjust="spacingAndGlyphs">POC <tspan font-style="italic">δ</tspan><tspan font-size="26" dy="-14">13</tspan><tspan dy="14">C</tspan> [‰]</text>
<text x="1184.4" y="2437.7" font-size="37" fill="#1a1a1a" stroke="#1a1a1a" stroke-width="0.55" textLength="245.9" lengthAdjust="spacingAndGlyphs">DIC <tspan font-style="italic">δ</tspan><tspan font-size="26" dy="-14">13</tspan><tspan dy="14">C</tspan> [‰]</text>
<g fill="#2c3e50" fill-opacity="0.2" stroke="#2c3e50" stroke-opacity="0.2" stroke-width="1.5">
<rect x="182.5" y="1920.8" width="18.4" height="18.4"/>
<rect x="219.4" y="1924.8" width="18.4" height="18.4"/>
<rect x="222.8" y="1972.4" width="18.4" height="18.4"/>
<rect x="202.4" y="2007.4" width="18.4" height="18.4"/>
<rect x="225.8" y="2003.8" width="18.4" height="18.4"/>
<rect x="223.8" y="1863.8" width="18.4" height="18.4"/>
<rect x="219.4" y="1881.8" width="18.4" height="18.4"/>
<rect x="246.5" y="1818.6" width="18.4" height="18.4"/>
<rect x="262.6" y="1991.4" width="18.4" height="18.4"/>
<rect x="230.6" y="2132.4" width="18.4" height="18.4"/>
<rect x="276.5" y="2138.8" width="18.4" height="18.4"/>
<rect x="298.9" y="2138.8" width="18.4" height="18.4"/>
<rect x="309.6" y="2126.0" width="18.4" height="18.4"/>
<rect x="318.1" y="2331.1" width="18.4" height="18.4"/>
<rect x="407.8" y="2068.4" width="18.4" height="18.4"/>
<rect x="407.8" y="2081.2" width="18.4" height="18.4"/>
<rect x="337.3" y="2141.0" width="18.4" height="18.4"/>
<rect x="336.3" y="2183.7" width="18.4" height="18.4"/>
<rect x="341.6" y="2202.9" width="18.4" height="18.4"/>
<rect x="335.2" y="2237.1" width="18.4" height="18.4"/>
<rect x="343.8" y="2275.5" width="18.4" height="18.4"/>
<rect x="350.2" y="2299.0" width="18.4" height="18.4"/>
<rect x="402.5" y="1974.3" width="18.4" height="18.4"/>
<path d="M258.6 1691.6L271.6 1704.6L258.6 1717.6L245.6 1704.6Z"/>
<path d="M263.1 1738.5L276.1 1751.5L263.1 1764.5L250.1 1751.5Z"/>
<path d="M258.6 1758.9L271.6 1771.9L258.6 1784.9L245.6 1771.9Z"/>
<path d="M292.8 1750.4L305.8 1763.4L292.8 1776.4L279.8 1763.4Z"/>
<path d="M281.5 1776.4L294.5 1789.4L281.5 1802.4L268.5 1789.4Z"/>
<path d="M281.5 1794.5L294.5 1807.5L281.5 1820.5L268.5 1807.5Z"/>
<path d="M253.2 1820.5L266.2 1833.5L253.2 1846.5L240.2 1833.5Z"/>
<path d="M488.6 1753.7L501.6 1766.7L488.6 1779.7L475.6 1766.7Z"/>
<path d="M473.6 1832.7L486.6 1845.7L473.6 1858.7L460.6 1845.7Z"/>
<path d="M472.5 1866.9L485.5 1879.9L472.5 1892.9L459.5 1879.9Z"/>
<path d="M412.8 1855.1L425.8 1868.1L412.8 1881.1L399.8 1868.1Z"/>
<path d="M395.7 1846.6L408.7 1859.6L395.7 1872.6L382.7 1859.6Z"/>
<path d="M440.5 1755.0L453.5 1768.0L440.5 1781.0L427.5 1768.0Z"/>
<path d="M459.4 1761.3L472.4 1774.3L459.4 1787.3L446.4 1774.3Z"/>
<path d="M417.0 2002.6L430.0 2015.6L417.0 2028.6L404.0 2015.6Z"/>
<path d="M438.4 2068.8L451.4 2081.8L438.4 2094.8L425.4 2081.8Z"/>
<path d="M451.2 2143.6L464.2 2156.6L451.2 2169.6L438.2 2156.6Z"/>
<path d="M394.6 2049.6L407.6 2062.6L394.6 2075.6L381.6 2062.6Z"/>
<path d="M402.1 2096.6L415.1 2109.6L402.1 2122.6L389.1 2109.6Z"/>
<path d="M391.4 2135.0L404.4 2148.0L391.4 2161.0L378.4 2148.0Z"/>
<path d="M411.7 2239.7L424.7 2252.7L411.7 2265.7L398.7 2252.7Z"/>
<path d="M375.4 2223.7L388.4 2236.7L375.4 2249.7L362.4 2236.7Z"/>
<path d="M402.1 2261.1L415.1 2274.1L402.1 2287.1L389.1 2274.1Z"/>
<path d="M421.3 2280.3L434.3 2293.3L421.3 2306.3L408.3 2293.3Z"/>
<path d="M387.1 2314.5L400.1 2327.5L387.1 2340.5L374.1 2327.5Z"/>
<path d="M355.1 2263.2L368.1 2276.2L355.1 2289.2L342.1 2276.2Z"/>
<path d="M380.7 2254.7L393.7 2267.7L380.7 2280.7L367.7 2267.7Z"/>
<path d="M391.4 2288.8L404.4 2301.8L391.4 2314.8L378.4 2301.8Z"/>
<path d="M385.0 2190.6L398.0 2203.6L385.0 2216.6L372.0 2203.6Z"/>
<path d="M397.8 2179.9L410.8 2192.9L397.8 2205.9L384.8 2192.9Z"/>
<path d="M370.0 2160.7L383.0 2173.7L370.0 2186.7L357.0 2173.7Z"/>
<path d="M389.3 2162.8L402.3 2175.8L389.3 2188.8L376.3 2175.8Z"/>
<path d="M406.3 1889.3L419.3 1902.3L406.3 1915.3L393.3 1902.3Z"/>
<path d="M396.0 2277.0L409.0 2290.0L396.0 2303.0L383.0 2290.0Z"/>
<path d="M362.0 2249.0L375.0 2262.0L362.0 2275.0L349.0 2262.0Z"/>
<path d="M333.8 1705.6L346.8 1718.6L333.8 1731.6L320.8 1718.6Z"/>
<path d="M375.3 1701.5L388.3 1714.5L375.3 1727.5L362.3 1714.5Z"/>
<path d="M338.7 1706.8L351.7 1719.8L338.7 1732.9L325.7 1719.8Z"/>
<path d="M310.3 1703.5L323.3 1716.5L310.3 1729.5L297.2 1716.5Z"/>
<path d="M349.4 1715.9L362.4 1728.9L349.4 1741.9L336.4 1728.9Z"/>
<path d="M302.3 1694.3L315.3 1707.3L302.3 1720.4L289.3 1707.3Z"/>
<path d="M355.0 1682.8L368.0 1695.8L355.0 1708.9L342.0 1695.8Z"/>
<path d="M351.5 1708.1L364.6 1721.1L351.5 1734.1L338.5 1721.1Z"/>
<path d="M340.5 1683.6L353.5 1696.6L340.5 1709.6L327.5 1696.6Z"/>
<path d="M310.7 1691.6L323.7 1704.6L310.7 1717.7L297.7 1704.6Z"/>
<path d="M296.6 1701.4L309.7 1714.4L296.6 1727.4L283.6 1714.4Z"/>
<path d="M332.8 1718.1L345.8 1731.1L332.8 1744.1L319.8 1731.1Z"/>
<path d="M339.7 1709.2L352.7 1722.2L339.7 1735.2L326.7 1722.2Z"/>
<path d="M338.0 1710.1L351.0 1723.1L338.0 1736.2L325.0 1723.1Z"/>
<path d="M334.2 1693.2L347.3 1706.2L334.2 1719.2L321.2 1706.2Z"/>
<path d="M367.9 1712.1L380.9 1725.1L367.9 1738.2L354.9 1725.1Z"/>
<path d="M321.7 1691.1L334.8 1704.1L321.7 1717.1L308.7 1704.1Z"/>
<path d="M319.4 1684.1L332.4 1697.1L319.4 1710.1L306.4 1697.1Z"/>
<path d="M361.4 1698.6L374.4 1711.6L361.4 1724.6L348.4 1711.6Z"/>
<path d="M368.5 1698.0L381.5 1711.0L368.5 1724.0L355.5 1711.0Z"/>
<path d="M374.1 1701.7L387.1 1714.7L374.1 1727.7L361.1 1714.7Z"/>
<path d="M371.8 1718.9L384.8 1731.9L371.8 1744.9L358.8 1731.9Z"/>
<path d="M317.4 1725.9L330.4 1738.9L317.4 1751.9L304.4 1738.9Z"/>
<path d="M359.7 1715.1L372.7 1728.1L359.7 1741.1L346.7 1728.1Z"/>
<path d="M318.2 1717.0L331.2 1730.0L318.2 1743.0L305.2 1730.0Z"/>
<path d="M320.1 1714.4L333.1 1727.4L320.1 1740.4L307.1 1727.4Z"/>
<path d="M360.8 1712.3L373.8 1725.3L360.8 1738.3L347.8 1725.3Z"/>
<path d="M346.6 1720.4L359.6 1733.4L346.6 1746.4L333.5 1733.4Z"/>
<path d="M324.4 1728.9L337.4 1742.0L324.4 1755.0L311.4 1742.0Z"/>
<path d="M320.9 1726.3L333.9 1739.3L320.9 1752.3L307.8 1739.3Z"/>
<path d="M320.0 1719.6L333.0 1732.6L320.0 1745.6L307.0 1732.6Z"/>
<path d="M325.8 1715.1L338.8 1728.1L325.8 1741.1L312.8 1728.1Z"/>
<path d="M331.2 1733.5L344.3 1746.5L331.2 1759.6L318.2 1746.5Z"/>
<path d="M325.6 1718.8L338.7 1731.8L325.6 1744.8L312.6 1731.8Z"/>
<path d="M364.3 1726.2L377.3 1739.3L364.3 1752.3L351.3 1739.3Z"/>
<path d="M325.8 1714.7L338.8 1727.7L325.8 1740.8L312.8 1727.7Z"/>
<path d="M359.4 1716.9L372.4 1729.9L359.4 1742.9L346.4 1729.9Z"/>
<path d="M330.8 1709.2L343.8 1722.2L330.8 1735.2L317.8 1722.2Z"/>
<path d="M318.4 1724.5L331.4 1737.5L318.4 1750.5L305.4 1737.5Z"/>
<path d="M327.6 1725.0L340.6 1738.0L327.6 1751.0L314.6 1738.0Z"/>
<path d="M335.3 1720.6L348.3 1733.6L335.3 1746.6L322.3 1733.6Z"/>
<path d="M370.5 1721.5L383.6 1734.5L370.5 1747.5L357.5 1734.5Z"/>
<path d="M347.5 1733.0L360.5 1746.0L347.5 1759.0L334.5 1746.0Z"/>
<path d="M324.0 1711.6L337.0 1724.6L324.0 1737.6L311.0 1724.6Z"/>
<path d="M328.0 1712.7L341.0 1725.7L328.0 1738.7L315.0 1725.7Z"/>
<path d="M365.9 1725.1L378.9 1738.1L365.9 1751.1L352.9 1738.1Z"/>
<path d="M289.5 1756.4L302.5 1769.4L289.5 1782.4L276.5 1769.4Z"/>
<path d="M283.6 1787.6L296.6 1800.6L283.6 1813.6L270.6 1800.6Z"/>
<path d="M284.2 1793.8L297.2 1806.8L284.2 1819.8L271.2 1806.8Z"/>
<path d="M295.1 1766.2L308.1 1779.3L295.1 1792.3L282.1 1779.3Z"/>
<path d="M281.6 1788.4L294.6 1801.5L281.6 1814.5L268.6 1801.5Z"/>
<path d="M293.9 1795.3L306.9 1808.3L293.9 1821.3L280.9 1808.3Z"/>
<path d="M295.7 1765.6L308.7 1778.6L295.7 1791.6L282.6 1778.6Z"/>
<path d="M290.3 1754.1L303.3 1767.1L290.3 1780.2L277.3 1767.1Z"/>
<path d="M281.6 1770.2L294.6 1783.2L281.6 1796.2L268.6 1783.2Z"/>
<path d="M294.3 1757.8L307.3 1770.8L294.3 1783.9L281.3 1770.8Z"/>
<path d="M287.6 1797.3L300.6 1810.3L287.6 1823.3L274.6 1810.3Z"/>
<path d="M298.1 1781.4L311.1 1794.4L298.1 1807.4L285.1 1794.4Z"/>
<path d="M304.8 1787.3L317.8 1800.4L304.8 1813.4L291.8 1800.4Z"/>
<rect x="297.2" y="1766.4" width="18.4" height="18.4"/>
<rect x="314.5" y="1798.8" width="18.4" height="18.4"/>
<rect x="307.5" y="1794.9" width="18.4" height="18.4"/>
<rect x="326.2" y="1774.5" width="18.4" height="18.4"/>
<path d="M335.1 1782.5L348.1 1795.5L335.1 1808.5L322.1 1795.5Z"/>
<path d="M308.2 1758.5L321.2 1771.5L308.2 1784.6L295.2 1771.5Z"/>
<path d="M330.2 1768.5L343.2 1781.5L330.2 1794.5L317.2 1781.5Z"/>
<rect x="310.7" y="1806.5" width="18.4" height="18.4"/>
<path d="M322.7 1778.1L335.7 1791.1L322.7 1804.1L309.7 1791.1Z"/>
<rect x="316.4" y="1779.4" width="18.4" height="18.4"/>
<path d="M332.1 1789.2L345.1 1802.2L332.1 1815.2L319.1 1802.2Z"/>
<rect x="305.6" y="1794.3" width="18.4" height="18.4"/>
<path d="M322.7 1796.3L335.7 1809.3L322.7 1822.3L309.7 1809.3Z"/>
<rect x="318.6" y="1776.4" width="18.4" height="18.4"/>
<rect x="306.6" y="1793.4" width="18.4" height="18.4"/>
<rect x="317.6" y="1803.9" width="18.4" height="18.4"/>
<path d="M335.7 1768.2L348.7 1781.2L335.7 1794.2L322.7 1781.2Z"/>
<path d="M311.6 1749.2L324.6 1762.2L311.6 1775.2L298.5 1762.2Z"/>
<rect x="324.9" y="1807.3" width="18.4" height="18.4"/>
<path d="M310.1 1773.2L323.1 1786.2L310.1 1799.3L297.1 1786.2Z"/>
<path d="M317.8 1778.5L330.8 1791.5L317.8 1804.5L304.8 1791.5Z"/>
<path d="M329.8 1803.0L342.8 1816.0L329.8 1829.0L316.8 1816.0Z"/>
<path d="M315.5 1802.0L328.5 1815.0L315.5 1828.0L302.5 1815.0Z"/>
<path d="M329.5 1782.4L342.5 1795.4L329.5 1808.4L316.5 1795.4Z"/>
<rect x="318.2" y="1785.7" width="18.4" height="18.4"/>
<path d="M318.6 1753.4L331.6 1766.4L318.6 1779.4L305.6 1766.4Z"/>
<rect x="303.3" y="1753.5" width="18.4" height="18.4"/>
<path d="M307.9 1779.7L320.9 1792.7L307.9 1805.7L294.9 1792.7Z"/>
<rect x="329.3" y="1794.8" width="18.4" height="18.4"/>
<rect x="324.5" y="1762.3" width="18.4" height="18.4"/>
<rect x="322.0" y="1783.4" width="18.4" height="18.4"/>
<path d="M310.4 1759.7L323.5 1772.7L310.4 1785.7L297.4 1772.7Z"/>
<rect x="314.2" y="1814.8" width="18.4" height="18.4"/>
<rect x="309.0" y="1803.0" width="18.4" height="18.4"/>
<path d="M330.0 1748.9L343.0 1761.9L330.0 1774.9L317.0 1761.9Z"/>
<rect x="301.9" y="1810.2" width="18.4" height="18.4"/>
<path d="M317.6 1782.2L330.6 1795.2L317.6 1808.2L304.6 1795.2Z"/>
<rect x="311.5" y="1792.3" width="18.4" height="18.4"/>
<path d="M308.4 1757.4L321.5 1770.4L308.4 1783.4L295.4 1770.4Z"/>
<path d="M323.3 1799.1L336.3 1812.1L323.3 1825.1L310.3 1812.1Z"/>
<rect x="304.2" y="1797.4" width="18.4" height="18.4"/>
<path d="M316.5 1745.3L329.6 1758.3L316.5 1771.3L303.5 1758.3Z"/>
<path d="M316.3 1771.0L329.3 1784.0L316.3 1797.0L303.3 1784.0Z"/>
<rect x="312.3" y="1745.0" width="18.4" height="18.4"/>
<path d="M319.4 1741.7L332.5 1754.7L319.4 1767.7L306.4 1754.7Z"/>
<path d="M328.7 1808.6L341.7 1821.6L328.7 1834.6L315.7 1821.6Z"/>
<path d="M309.4 1778.2L322.4 1791.3L309.4 1804.3L296.3 1791.3Z"/>
<rect x="328.8" y="1780.2" width="18.4" height="18.4"/>
<path d="M331.3 1772.4L344.3 1785.4L331.3 1798.4L318.3 1785.4Z"/>
<rect x="324.7" y="1785.5" width="18.4" height="18.4"/>
<path d="M322.8 1803.1L335.8 1816.1L322.8 1829.1L309.8 1816.1Z"/>
<rect x="306.0" y="1771.8" width="18.4" height="18.4"/>
<path d="M315.0 1749.7L328.0 1762.7L315.0 1775.7L302.0 1762.7Z"/>
<rect x="315.4" y="1758.1" width="18.4" height="18.4"/>
<rect x="312.9" y="1788.8" width="18.4" height="18.4"/>
<path d="M323.4 1742.3L336.4 1755.3L323.4 1768.3L310.4 1755.3Z"/>
<rect x="314.4" y="1818.0" width="18.4" height="18.4"/>
<rect x="312.5" y="1795.3" width="18.4" height="18.4"/>
<path d="M337.5 1773.9L350.5 1786.9L337.5 1799.9L324.5 1786.9Z"/>
<rect x="304.5" y="1778.8" width="18.4" height="18.4"/>
<path d="M316.2 1807.5L329.2 1820.5L316.2 1833.5L303.2 1820.5Z"/>
<path d="M322.9 1747.2L335.9 1760.3L322.9 1773.3L309.9 1760.3Z"/>
<path d="M358.1 1814.7L371.1 1827.7L358.1 1840.7L345.1 1827.7Z"/>
<path d="M332.7 1802.5L345.7 1815.5L332.7 1828.5L319.7 1815.5Z"/>
<path d="M337.8 1794.7L350.8 1807.7L337.8 1820.7L324.8 1807.7Z"/>
<path d="M342.7 1766.8L355.8 1779.8L342.7 1792.9L329.7 1779.8Z"/>
<path d="M358.2 1745.8L371.2 1758.8L358.2 1771.8L345.2 1758.8Z"/>
<path d="M364.0 1747.3L377.0 1760.3L364.0 1773.3L351.0 1760.3Z"/>
<path d="M352.5 1758.0L365.6 1771.0L352.5 1784.1L339.5 1771.0Z"/>
<path d="M336.3 1781.5L349.3 1794.5L336.3 1807.6L323.3 1794.5Z"/>
<path d="M348.7 1768.6L361.7 1781.6L348.7 1794.6L335.7 1781.6Z"/>
<path d="M347.5 1781.5L360.5 1794.5L347.5 1807.5L334.5 1794.5Z"/>
<path d="M334.3 1754.1L347.3 1767.2L334.3 1780.2L321.3 1767.2Z"/>
<path d="M358.8 1790.6L371.8 1803.6L358.8 1816.6L345.8 1803.6Z"/>
<path d="M353.5 1808.5L366.5 1821.5L353.5 1834.5L340.5 1821.5Z"/>
<path d="M357.8 1809.0L370.8 1822.0L357.8 1835.0L344.8 1822.0Z"/>
<path d="M338.1 1799.2L351.1 1812.2L338.1 1825.2L325.1 1812.2Z"/>
<path d="M342.4 1763.5L355.4 1776.5L342.4 1789.5L329.4 1776.5Z"/>
<path d="M333.0 1757.1L346.0 1770.1L333.0 1783.1L320.0 1770.1Z"/>
<path d="M363.8 1758.8L376.8 1771.8L363.8 1784.8L350.8 1771.8Z"/>
<path d="M347.9 1803.3L360.9 1816.4L347.9 1829.4L334.9 1816.4Z"/>
<path d="M332.6 1770.8L345.6 1783.8L332.6 1796.8L319.5 1783.8Z"/>
<path d="M336.4 1794.3L349.5 1807.3L336.4 1820.3L323.4 1807.3Z"/>
<path d="M332.0 1779.5L345.0 1792.5L332.0 1805.5L319.0 1792.5Z"/>
<path d="M365.4 1779.2L378.4 1792.2L365.4 1805.2L352.4 1792.2Z"/>
<path d="M361.7 1752.9L374.7 1765.9L361.7 1778.9L348.6 1765.9Z"/>
<path d="M327.9 1783.3L341.0 1796.3L327.9 1809.3L314.9 1796.3Z"/>
<path d="M352.8 1784.8L365.8 1797.8L352.8 1810.8L339.8 1797.8Z"/>
<path d="M333.6 1752.5L346.6 1765.5L333.6 1778.5L320.6 1765.5Z"/>
<path d="M336.6 1807.6L349.6 1820.6L336.6 1833.6L323.6 1820.6Z"/>
<path d="M375.5 1775.8L388.5 1788.8L375.5 1801.8L362.5 1788.8Z"/>
<path d="M365.8 1764.4L378.8 1777.5L365.8 1790.5L352.8 1777.5Z"/>
<path d="M350.3 1780.3L363.3 1793.3L350.3 1806.3L337.3 1793.3Z"/>
<path d="M348.4 1787.5L361.4 1800.5L348.4 1813.5L335.4 1800.5Z"/>
<path d="M369.9 1752.2L382.9 1765.2L369.9 1778.2L356.9 1765.2Z"/>
<path d="M349.6 1799.1L362.6 1812.1L349.6 1825.1L336.6 1812.1Z"/>
<path d="M347.1 1753.4L360.1 1766.4L347.1 1779.4L334.1 1766.4Z"/>
<path d="M334.6 1780.0L347.6 1793.1L334.6 1806.1L321.6 1793.1Z"/>
<path d="M367.7 1796.2L380.7 1809.2L367.7 1822.2L354.7 1809.2Z"/>
<path d="M370.8 1789.9L383.8 1802.9L370.8 1815.9L357.7 1802.9Z"/>
<path d="M347.0 1787.4L360.0 1800.4L347.0 1813.4L334.0 1800.4Z"/>
<path d="M352.2 1819.5L365.2 1832.5L352.2 1845.6L339.2 1832.5Z"/>
<path d="M367.9 1758.7L380.9 1771.7L367.9 1784.7L354.8 1771.7Z"/>
<path d="M373.4 1799.5L386.4 1812.5L373.4 1825.5L360.4 1812.5Z"/>
<path d="M366.5 1805.4L379.5 1818.4L366.5 1831.4L353.4 1818.4Z"/>
<path d="M347.1 1812.3L360.1 1825.3L347.1 1838.3L334.1 1825.3Z"/>
<path d="M371.8 1795.4L384.8 1808.4L371.8 1821.4L358.7 1808.4Z"/>
<path d="M365.9 1801.3L378.9 1814.3L365.9 1827.3L352.9 1814.3Z"/>
<path d="M347.1 1797.7L360.1 1810.7L347.1 1823.7L334.1 1810.7Z"/>
<path d="M329.7 1765.7L342.7 1778.7L329.7 1791.7L316.7 1778.7Z"/>
<path d="M350.4 1737.9L363.4 1750.9L350.4 1763.9L337.4 1750.9Z"/>
<path d="M344.5 1790.6L357.5 1803.7L344.5 1816.7L331.5 1803.7Z"/>
<path d="M358.4 1756.5L371.5 1769.5L358.4 1782.5L345.4 1769.5Z"/>
<path d="M375.1 1792.9L388.1 1806.0L375.1 1819.0L362.1 1806.0Z"/>
<path d="M343.6 1792.4L356.6 1805.4L343.6 1818.4L330.6 1805.4Z"/>
<path d="M355.6 1781.8L368.6 1794.8L355.6 1807.8L342.6 1794.8Z"/>
<path d="M359.4 1795.9L372.4 1808.9L359.4 1821.9L346.4 1808.9Z"/>
<path d="M327.2 1788.7L340.2 1801.7L327.2 1814.7L314.2 1801.7Z"/>
<path d="M364.4 1758.5L377.4 1771.6L364.4 1784.6L351.4 1771.6Z"/>
<path d="M346.9 1741.2L359.9 1754.2L346.9 1767.2L333.9 1754.2Z"/>
<path d="M336.2 1768.5L349.2 1781.6L336.2 1794.6L323.2 1781.6Z"/>
<path d="M331.1 1758.1L344.1 1771.1L331.1 1784.1L318.1 1771.1Z"/>
<path d="M373.1 1783.2L386.1 1796.2L373.1 1809.2L360.1 1796.2Z"/>
<path d="M352.4 1818.2L365.4 1831.2L352.4 1844.2L339.4 1831.2Z"/>
<path d="M355.5 1820.6L368.5 1833.6L355.5 1846.6L342.5 1833.6Z"/>
<path d="M359.2 1805.0L372.2 1818.0L359.2 1831.0L346.2 1818.0Z"/>
<path d="M330.0 1787.2L343.0 1800.2L330.0 1813.2L317.0 1800.2Z"/>
<path d="M350.5 1751.2L363.5 1764.2L350.5 1777.2L337.5 1764.2Z"/>
<path d="M351.8 1788.3L364.8 1801.3L351.8 1814.3L338.8 1801.3Z"/>
<path d="M347.9 1781.2L360.9 1794.2L347.9 1807.3L334.9 1794.2Z"/>
<path d="M357.1 1767.7L370.1 1780.7L357.1 1793.7L344.1 1780.7Z"/>
<path d="M340.9 1792.0L353.9 1805.0L340.9 1818.0L327.9 1805.0Z"/>
<path d="M355.2 1760.8L368.2 1773.8L355.2 1786.8L342.1 1773.8Z"/>
<path d="M363.3 1761.9L376.3 1774.9L363.3 1787.9L350.3 1774.9Z"/>
<path d="M365.2 1769.7L378.3 1782.8L365.2 1795.8L352.2 1782.8Z"/>
<path d="M372.7 1799.9L385.7 1812.9L372.7 1825.9L359.7 1812.9Z"/>
<path d="M373.1 1773.1L386.1 1786.1L373.1 1799.1L360.1 1786.1Z"/>
<path d="M350.8 1818.7L363.8 1831.7L350.8 1844.8L337.8 1831.7Z"/>
<path d="M338.7 1781.0L351.7 1794.0L338.7 1807.0L325.7 1794.0Z"/>
<path d="M374.7 1797.7L387.7 1810.7L374.7 1823.7L361.7 1810.7Z"/>
<path d="M350.4 1819.2L363.4 1832.2L350.4 1845.2L337.3 1832.2Z"/>
<path d="M368.5 1787.7L381.5 1800.7L368.5 1813.7L355.5 1800.7Z"/>
<path d="M332.0 1789.4L345.0 1802.4L332.0 1815.4L319.0 1802.4Z"/>
<path d="M349.7 1754.1L362.7 1767.1L349.7 1780.1L336.7 1767.1Z"/>
<path d="M328.7 1781.4L341.7 1794.4L328.7 1807.4L315.7 1794.4Z"/>
<path d="M332.5 1774.2L345.5 1787.2L332.5 1800.2L319.5 1787.2Z"/>
<path d="M360.7 1775.3L373.7 1788.3L360.7 1801.3L347.7 1788.3Z"/>
<path d="M339.6 1785.9L352.6 1798.9L339.6 1811.9L326.6 1798.9Z"/>
<path d="M347.8 1802.3L360.8 1815.3L347.8 1828.4L334.8 1815.3Z"/>
<path d="M353.6 1820.8L366.6 1833.8L353.6 1846.8L340.6 1833.8Z"/>
<path d="M338.4 1746.6L351.4 1759.6L338.4 1772.6L325.4 1759.6Z"/>
<path d="M372.4 1802.9L385.4 1815.9L372.4 1828.9L359.4 1815.9Z"/>
<path d="M358.5 1767.2L371.5 1780.2L358.5 1793.2L345.5 1780.2Z"/>
<path d="M393.7 1807.6L406.7 1820.6L393.7 1833.6L380.7 1820.6Z"/>
<path d="M417.2 1801.2L430.2 1814.2L417.2 1827.2L404.2 1814.2Z"/>
<path d="M422.6 1812.2L435.7 1825.2L422.6 1838.2L409.6 1825.2Z"/>
<path d="M387.2 1777.9L400.2 1790.9L387.2 1803.9L374.2 1790.9Z"/>
<path d="M376.9 1779.4L389.9 1792.4L376.9 1805.4L363.9 1792.4Z"/>
<path d="M406.0 1803.4L419.0 1816.4L406.0 1829.4L393.0 1816.4Z"/>
<path d="M380.2 1797.8L393.2 1810.8L380.2 1823.8L367.2 1810.8Z"/>
<path d="M426.1 1798.4L439.1 1811.4L426.1 1824.5L413.1 1811.4Z"/>
<path d="M422.5 1786.4L435.5 1799.4L422.5 1812.4L409.5 1799.4Z"/>
<path d="M410.3 1775.3L423.3 1788.3L410.3 1801.3L397.3 1788.3Z"/>
<path d="M399.5 1811.6L412.5 1824.6L399.5 1837.7L386.5 1824.6Z"/>
<path d="M381.6 1816.0L394.6 1829.0L381.6 1842.0L368.6 1829.0Z"/>
<path d="M421.9 1813.3L434.9 1826.3L421.9 1839.3L408.9 1826.3Z"/>
<path d="M389.1 1789.8L402.1 1802.9L389.1 1815.9L376.0 1802.9Z"/>
<path d="M392.6 1816.1L405.7 1829.1L392.6 1842.1L379.6 1829.1Z"/>
<path d="M401.5 1805.4L414.5 1818.4L401.5 1831.5L388.5 1818.4Z"/>
<path d="M415.9 1811.7L428.9 1824.7L415.9 1837.7L402.9 1824.7Z"/>
<path d="M445.7 1790.1L458.7 1803.1L445.7 1816.1L432.7 1803.1Z"/>
<path d="M401.5 1767.6L414.5 1780.6L401.5 1793.6L388.5 1780.6Z"/>
<path d="M378.6 1799.4L391.7 1812.4L378.6 1825.4L365.6 1812.4Z"/>
<path d="M410.8 1807.6L423.8 1820.6L410.8 1833.6L397.8 1820.6Z"/>
<path d="M395.9 1813.7L408.9 1826.7L395.9 1839.7L382.9 1826.7Z"/>
<path d="M425.0 1766.5L438.0 1779.6L425.0 1792.6L412.0 1779.6Z"/>
<path d="M396.3 1810.3L409.3 1823.3L396.3 1836.3L383.3 1823.3Z"/>
<path d="M427.5 1780.2L440.5 1793.2L427.5 1806.2L414.5 1793.2Z"/>
<path d="M383.4 1785.3L396.4 1798.3L383.4 1811.3L370.4 1798.3Z"/>
<path d="M430.1 1785.9L443.1 1798.9L430.1 1811.9L417.1 1798.9Z"/>
<path d="M381.4 1809.2L394.4 1822.2L381.4 1835.2L368.4 1822.2Z"/>
<path d="M417.5 1823.5L430.6 1836.5L417.5 1849.5L404.5 1836.5Z"/>
<path d="M407.0 1815.6L420.0 1828.6L407.0 1841.6L394.0 1828.6Z"/>
<path d="M396.4 1782.6L409.4 1795.6L396.4 1808.6L383.4 1795.6Z"/>
<path d="M404.0 1824.5L417.0 1837.6L404.0 1850.6L391.0 1837.6Z"/>
<path d="M443.6 1777.9L456.6 1790.9L443.6 1803.9L430.6 1790.9Z"/>
<path d="M400.9 1785.8L413.9 1798.9L400.9 1811.9L387.9 1798.9Z"/>
<path d="M401.1 1787.9L414.1 1800.9L401.1 1813.9L388.1 1800.9Z"/>
<path d="M403.0 1774.2L416.0 1787.3L403.0 1800.3L390.0 1787.3Z"/>
<path d="M417.1 1815.2L430.1 1828.2L417.1 1841.2L404.1 1828.2Z"/>
<path d="M415.2 1817.9L428.3 1830.9L415.2 1843.9L402.2 1830.9Z"/>
<path d="M417.0 1773.0L430.0 1786.0L417.0 1799.0L404.0 1786.0Z"/>
<path d="M432.7 1820.9L445.7 1833.9L432.7 1846.9L419.7 1833.9Z"/>
<path d="M413.3 1798.0L426.3 1811.0L413.3 1824.0L400.2 1811.0Z"/>
<path d="M417.4 1826.7L430.4 1839.7L417.4 1852.7L404.4 1839.7Z"/>
<path d="M424.1 1815.7L437.1 1828.7L424.1 1841.7L411.1 1828.7Z"/>
<path d="M377.1 1798.2L390.1 1811.2L377.1 1824.2L364.1 1811.2Z"/>
<path d="M378.5 1811.1L391.5 1824.1L378.5 1837.1L365.5 1824.1Z"/>
<path d="M422.7 1770.8L435.7 1783.8L422.7 1796.8L409.7 1783.8Z"/>
<path d="M431.7 1805.1L444.7 1818.1L431.7 1831.1L418.7 1818.1Z"/>
<path d="M391.6 1776.0L404.6 1789.0L391.6 1802.0L378.6 1789.0Z"/>
<path d="M433.2 1796.5L446.2 1809.5L433.2 1822.5L420.2 1809.5Z"/>
<path d="M433.2 1787.8L446.2 1800.8L433.2 1813.8L420.2 1800.8Z"/>
<rect x="294.3" y="1912.9" width="18.4" height="18.4"/>
<rect x="307.7" y="1870.2" width="18.4" height="18.4"/>
<rect x="302.3" y="1890.7" width="18.4" height="18.4"/>
<rect x="309.1" y="1908.1" width="18.4" height="18.4"/>
<rect x="297.2" y="1900.2" width="18.4" height="18.4"/>
<rect x="307.5" y="1902.6" width="18.4" height="18.4"/>
<rect x="313.0" y="1900.8" width="18.4" height="18.4"/>
<rect x="306.4" y="1872.9" width="18.4" height="18.4"/>
<rect x="309.2" y="1898.0" width="18.4" height="18.4"/>
<rect x="297.7" y="1863.6" width="18.4" height="18.4"/>
<rect x="286.6" y="1892.5" width="18.4" height="18.4"/>
<rect x="287.5" y="1844.2" width="18.4" height="18.4"/>
<rect x="297.8" y="1852.1" width="18.4" height="18.4"/>
<rect x="293.1" y="1836.1" width="18.4" height="18.4"/>
<rect x="306.7" y="1895.6" width="18.4" height="18.4"/>
<rect x="299.2" y="1878.4" width="18.4" height="18.4"/>
<rect x="289.5" y="1847.0" width="18.4" height="18.4"/>
<rect x="309.5" y="1879.3" width="18.4" height="18.4"/>
<rect x="289.8" y="1842.4" width="18.4" height="18.4"/>
<rect x="292.0" y="1841.3" width="18.4" height="18.4"/>
<rect x="311.1" y="1853.9" width="18.4" height="18.4"/>
<rect x="302.7" y="1899.3" width="18.4" height="18.4"/>
<rect x="300.0" y="1849.2" width="18.4" height="18.4"/>
<rect x="294.5" y="1875.1" width="18.4" height="18.4"/>
<rect x="319.1" y="1869.2" width="18.4" height="18.4"/>
<rect x="296.2" y="1873.3" width="18.4" height="18.4"/>
<rect x="301.4" y="1850.5" width="18.4" height="18.4"/>
<rect x="299.7" y="1859.2" width="18.4" height="18.4"/>
<rect x="312.7" y="1890.0" width="18.4" height="18.4"/>
<rect x="305.0" y="1840.0" width="18.4" height="18.4"/>
<rect x="287.1" y="1854.8" width="18.4" height="18.4"/>
<rect x="291.2" y="1904.0" width="18.4" height="18.4"/>
<rect x="301.4" y="1883.1" width="18.4" height="18.4"/>
<rect x="302.2" y="1839.4" width="18.4" height="18.4"/>
<rect x="313.7" y="1902.0" width="18.4" height="18.4"/>
<rect x="291.6" y="1890.3" width="18.4" height="18.4"/>
<rect x="284.7" y="1869.0" width="18.4" height="18.4"/>
<rect x="299.5" y="1911.8" width="18.4" height="18.4"/>
<rect x="304.3" y="1903.0" width="18.4" height="18.4"/>
<rect x="292.9" y="1896.8" width="18.4" height="18.4"/>
<rect x="297.5" y="1908.3" width="18.4" height="18.4"/>
<rect x="289.1" y="1874.7" width="18.4" height="18.4"/>
<rect x="301.8" y="1840.0" width="18.4" height="18.4"/>
<rect x="314.1" y="1853.8" width="18.4" height="18.4"/>
<rect x="293.2" y="1832.6" width="18.4" height="18.4"/>
<rect x="293.0" y="1867.9" width="18.4" height="18.4"/>
<rect x="309.4" y="1858.2" width="18.4" height="18.4"/>
<rect x="308.3" y="1835.3" width="18.4" height="18.4"/>
<rect x="296.6" y="1867.4" width="18.4" height="18.4"/>
<rect x="295.9" y="1889.7" width="18.4" height="18.4"/>
<rect x="290.3" y="1876.6" width="18.4" height="18.4"/>
<rect x="299.1" y="1826.7" width="18.4" height="18.4"/>
<rect x="289.1" y="1881.2" width="18.4" height="18.4"/>
<rect x="292.4" y="1859.6" width="18.4" height="18.4"/>
<rect x="302.4" y="1852.6" width="18.4" height="18.4"/>
<rect x="294.3" y="1861.1" width="18.4" height="18.4"/>
<rect x="307.5" y="1848.9" width="18.4" height="18.4"/>
<rect x="288.8" y="1891.6" width="18.4" height="18.4"/>
<rect x="260.6" y="1950.3" width="18.4" height="18.4"/>
<rect x="274.6" y="1928.2" width="18.4" height="18.4"/>
<rect x="260.7" y="1938.5" width="18.4" height="18.4"/>
<rect x="246.5" y="1923.6" width="18.4" height="18.4"/>
<rect x="283.3" y="1873.8" width="18.4" height="18.4"/>
<rect x="264.9" y="1939.5" width="18.4" height="18.4"/>
<rect x="276.4" y="1864.8" width="18.4" height="18.4"/>
<rect x="254.4" y="1871.5" width="18.4" height="18.4"/>
<rect x="248.2" y="1896.5" width="18.4" height="18.4"/>
<rect x="266.4" y="1907.0" width="18.4" height="18.4"/>
<rect x="279.6" y="1932.5" width="18.4" height="18.4"/>
<rect x="290.1" y="1894.4" width="18.4" height="18.4"/>
<rect x="260.7" y="1897.0" width="18.4" height="18.4"/>
<rect x="241.7" y="1895.9" width="18.4" height="18.4"/>
<rect x="288.2" y="1921.8" width="18.4" height="18.4"/>
<rect x="277.3" y="1857.7" width="18.4" height="18.4"/>
<rect x="260.7" y="1890.0" width="18.4" height="18.4"/>
<rect x="279.8" y="1866.4" width="18.4" height="18.4"/>
<rect x="263.5" y="1906.7" width="18.4" height="18.4"/>
<rect x="288.1" y="1938.3" width="18.4" height="18.4"/>
<rect x="277.5" y="1871.6" width="18.4" height="18.4"/>
<rect x="286.8" y="1946.1" width="18.4" height="18.4"/>
<rect x="273.7" y="1891.1" width="18.4" height="18.4"/>
<rect x="270.8" y="1870.0" width="18.4" height="18.4"/>
<rect x="271.8" y="1927.3" width="18.4" height="18.4"/>
<rect x="290.9" y="1875.5" width="18.4" height="18.4"/>
<rect x="297.5" y="1918.5" width="18.4" height="18.4"/>
<rect x="255.5" y="1913.4" width="18.4" height="18.4"/>
<rect x="282.6" y="1888.7" width="18.4" height="18.4"/>
<rect x="296.5" y="1891.9" width="18.4" height="18.4"/>
<rect x="268.6" y="1868.2" width="18.4" height="18.4"/>
<rect x="295.0" y="1910.1" width="18.4" height="18.4"/>
<rect x="274.4" y="1911.8" width="18.4" height="18.4"/>
<rect x="256.7" y="1946.7" width="18.4" height="18.4"/>
<rect x="276.9" y="1868.1" width="18.4" height="18.4"/>
<rect x="290.3" y="1884.7" width="18.4" height="18.4"/>
<rect x="294.6" y="1879.9" width="18.4" height="18.4"/>
<rect x="275.2" y="1938.9" width="18.4" height="18.4"/>
<rect x="251.9" y="1910.6" width="18.4" height="18.4"/>
<rect x="297.2" y="1921.6" width="18.4" height="18.4"/>
<rect x="259.3" y="1922.9" width="18.4" height="18.4"/>
<rect x="285.1" y="1894.0" width="18.4" height="18.4"/>
<rect x="276.3" y="1936.2" width="18.4" height="18.4"/>
<rect x="268.9" y="1870.1" width="18.4" height="18.4"/>
<rect x="264.0" y="1912.8" width="18.4" height="18.4"/>
<rect x="251.2" y="1907.8" width="18.4" height="18.4"/>
<rect x="256.6" y="1912.6" width="18.4" height="18.4"/>
<rect x="260.7" y="1920.0" width="18.4" height="18.4"/>
<rect x="243.1" y="1922.9" width="18.4" height="18.4"/>
<rect x="276.8" y="1902.8" width="18.4" height="18.4"/>
<rect x="265.5" y="1918.2" width="18.4" height="18.4"/>
<rect x="282.2" y="1931.6" width="18.4" height="18.4"/>
<rect x="285.9" y="1904.4" width="18.4" height="18.4"/>
<rect x="292.1" y="1896.7" width="18.4" height="18.4"/>
<rect x="266.8" y="1912.4" width="18.4" height="18.4"/>
<rect x="295.1" y="1908.4" width="18.4" height="18.4"/>
<rect x="299.8" y="1935.6" width="18.4" height="18.4"/>
<rect x="315.0" y="1927.2" width="18.4" height="18.4"/>
<rect x="281.0" y="1957.9" width="18.4" height="18.4"/>
<rect x="314.8" y="1958.4" width="18.4" height="18.4"/>
<rect x="302.7" y="1959.9" width="18.4" height="18.4"/>
<rect x="291.0" y="1947.9" width="18.4" height="18.4"/>
<rect x="296.7" y="1941.0" width="18.4" height="18.4"/>
<rect x="294.7" y="1906.7" width="18.4" height="18.4"/>
<rect x="306.6" y="1942.8" width="18.4" height="18.4"/>
<rect x="288.4" y="1926.1" width="18.4" height="18.4"/>
<rect x="294.6" y="1920.7" width="18.4" height="18.4"/>
<rect x="317.5" y="1953.4" width="18.4" height="18.4"/>
<rect x="313.5" y="1934.8" width="18.4" height="18.4"/>
<rect x="311.0" y="1919.7" width="18.4" height="18.4"/>
<rect x="308.7" y="1945.9" width="18.4" height="18.4"/>
<rect x="310.5" y="1912.2" width="18.4" height="18.4"/>
<rect x="300.3" y="1975.1" width="18.4" height="18.4"/>
<rect x="290.8" y="1927.5" width="18.4" height="18.4"/>
<rect x="311.4" y="1933.0" width="18.4" height="18.4"/>
<rect x="293.1" y="1947.3" width="18.4" height="18.4"/>
<rect x="314.7" y="1926.2" width="18.4" height="18.4"/>
<rect x="298.7" y="1973.8" width="18.4" height="18.4"/>
<rect x="317.9" y="1938.7" width="18.4" height="18.4"/>
<rect x="287.1" y="1925.2" width="18.4" height="18.4"/>
<rect x="286.6" y="1966.5" width="18.4" height="18.4"/>
<rect x="293.0" y="1938.7" width="18.4" height="18.4"/>
<rect x="304.1" y="1917.4" width="18.4" height="18.4"/>
<rect x="283.0" y="1958.0" width="18.4" height="18.4"/>
<rect x="291.3" y="1971.2" width="18.4" height="18.4"/>
<rect x="313.6" y="1957.0" width="18.4" height="18.4"/>
<rect x="284.2" y="1955.7" width="18.4" height="18.4"/>
<rect x="316.3" y="1936.6" width="18.4" height="18.4"/>
<rect x="291.1" y="1956.8" width="18.4" height="18.4"/>
<rect x="286.7" y="1916.6" width="18.4" height="18.4"/>
<rect x="282.2" y="2063.8" width="18.4" height="18.4"/>
<rect x="304.4" y="2023.0" width="18.4" height="18.4"/>
<rect x="299.3" y="2094.6" width="18.4" height="18.4"/>
<rect x="296.4" y="2002.9" width="18.4" height="18.4"/>
<rect x="284.8" y="2100.5" width="18.4" height="18.4"/>
<rect x="299.5" y="2009.6" width="18.4" height="18.4"/>
<rect x="298.4" y="1983.4" width="18.4" height="18.4"/>
<rect x="312.1" y="2032.4" width="18.4" height="18.4"/>
<rect x="293.9" y="2045.1" width="18.4" height="18.4"/>
<rect x="274.6" y="2054.8" width="18.4" height="18.4"/>
<rect x="284.2" y="2005.9" width="18.4" height="18.4"/>
<rect x="284.2" y="2076.6" width="18.4" height="18.4"/>
<rect x="282.6" y="2009.9" width="18.4" height="18.4"/>
<rect x="294.7" y="1996.9" width="18.4" height="18.4"/>
<rect x="274.1" y="2035.4" width="18.4" height="18.4"/>
<rect x="302.8" y="2024.7" width="18.4" height="18.4"/>
<rect x="310.0" y="2040.8" width="18.4" height="18.4"/>
<rect x="280.0" y="2048.6" width="18.4" height="18.4"/>
<rect x="298.6" y="2021.1" width="18.4" height="18.4"/>
<rect x="299.1" y="2080.4" width="18.4" height="18.4"/>
<rect x="293.5" y="2041.6" width="18.4" height="18.4"/>
<rect x="306.6" y="2066.6" width="18.4" height="18.4"/>
<rect x="293.6" y="2104.0" width="18.4" height="18.4"/>
<rect x="279.8" y="2080.0" width="18.4" height="18.4"/>
<rect x="279.4" y="2055.9" width="18.4" height="18.4"/>
<rect x="282.2" y="2032.5" width="18.4" height="18.4"/>
<rect x="303.7" y="2080.9" width="18.4" height="18.4"/>
<rect x="304.4" y="2003.8" width="18.4" height="18.4"/>
<rect x="292.4" y="2001.8" width="18.4" height="18.4"/>
<rect x="296.0" y="2040.7" width="18.4" height="18.4"/>
<rect x="274.2" y="2054.4" width="18.4" height="18.4"/>
<rect x="301.4" y="2051.0" width="18.4" height="18.4"/>
<rect x="307.7" y="1996.0" width="18.4" height="18.4"/>
<rect x="292.6" y="2031.6" width="18.4" height="18.4"/>
<rect x="290.5" y="2007.6" width="18.4" height="18.4"/>
<rect x="309.1" y="2050.4" width="18.4" height="18.4"/>
<path d="M346.7 2080.7L359.7 2093.7L346.7 2106.7L333.7 2093.7Z"/>
<path d="M334.5 1983.9L347.5 1996.9L334.5 2009.9L321.5 1996.9Z"/>
<path d="M337.4 1968.3L350.4 1981.3L337.4 1994.4L324.4 1981.3Z"/>
<path d="M337.6 2055.2L350.6 2068.2L337.6 2081.2L324.6 2068.2Z"/>
<path d="M346.0 2001.7L359.0 2014.7L346.0 2027.7L333.0 2014.7Z"/>
<path d="M348.5 1975.3L361.6 1988.3L348.5 2001.3L335.5 1988.3Z"/>
<path d="M357.8 1987.7L370.8 2000.7L357.8 2013.7L344.8 2000.7Z"/>
<path d="M335.2 1986.0L348.2 1999.0L335.2 2012.0L322.2 1999.0Z"/>
<path d="M352.6 2086.6L365.6 2099.6L352.6 2112.6L339.6 2099.6Z"/>
<path d="M341.4 2016.7L354.4 2029.7L341.4 2042.7L328.4 2029.7Z"/>
<path d="M326.7 2035.4L339.7 2048.4L326.7 2061.4L313.7 2048.4Z"/>
<path d="M330.8 2030.3L343.8 2043.3L330.8 2056.3L317.8 2043.3Z"/>
<path d="M334.6 2095.5L347.6 2108.5L334.6 2121.5L321.6 2108.5Z"/>
<path d="M330.7 2020.9L343.7 2033.9L330.7 2046.9L317.7 2033.9Z"/>
<path d="M336.9 2025.7L349.9 2038.7L336.9 2051.7L323.9 2038.7Z"/>
<path d="M354.4 1996.5L367.4 2009.5L354.4 2022.5L341.4 2009.5Z"/>
<path d="M335.1 2044.8L348.1 2057.8L335.1 2070.8L322.1 2057.8Z"/>
<path d="M334.7 2031.2L347.7 2044.2L334.7 2057.2L321.7 2044.2Z"/>
<path d="M362.3 2016.6L375.3 2029.6L362.3 2042.6L349.3 2029.6Z"/>
<path d="M349.4 1967.9L362.4 1981.0L349.4 1994.0L336.4 1981.0Z"/>
<path d="M341.1 2059.5L354.1 2072.5L341.1 2085.5L328.1 2072.5Z"/>
<path d="M327.3 2013.5L340.3 2026.5L327.3 2039.5L314.3 2026.5Z"/>
<path d="M352.8 2091.7L365.8 2104.7L352.8 2117.7L339.8 2104.7Z"/>
<path d="M348.6 2094.9L361.6 2108.0L348.6 2121.0L335.6 2108.0Z"/>
<path d="M343.5 2020.9L356.5 2033.9L343.5 2046.9L330.5 2033.9Z"/>
<path d="M358.7 2019.2L371.7 2032.2L358.7 2045.2L345.7 2032.2Z"/>
<path d="M356.3 1994.3L369.3 2007.3L356.3 2020.3L343.2 2007.3Z"/>
<path d="M338.9 1989.5L351.9 2002.5L338.9 2015.6L325.9 2002.5Z"/>
<path d="M347.0 1986.6L360.0 1999.6L347.0 2012.6L334.0 1999.6Z"/>
<path d="M333.1 1994.2L346.2 2007.2L333.1 2020.2L320.1 2007.2Z"/>
<path d="M343.7 2008.3L356.7 2021.3L343.7 2034.3L330.7 2021.3Z"/>
<path d="M342.9 2111.0L355.9 2124.0L342.9 2137.0L329.9 2124.0Z"/>
<path d="M352.2 2091.4L365.2 2104.4L352.2 2117.4L339.2 2104.4Z"/>
<path d="M333.2 2019.4L346.2 2032.4L333.2 2045.5L320.2 2032.4Z"/>
<path d="M327.9 2065.7L340.9 2078.7L327.9 2091.7L314.9 2078.7Z"/>
<path d="M339.5 2003.2L352.5 2016.2L339.5 2029.2L326.5 2016.2Z"/>
<path d="M335.5 2020.9L348.5 2033.9L335.5 2047.0L322.5 2033.9Z"/>
<path d="M361.9 2069.3L375.0 2082.3L361.9 2095.3L348.9 2082.3Z"/>
<path d="M335.7 2016.2L348.8 2029.2L335.7 2042.2L322.7 2029.2Z"/>
<path d="M339.4 2076.8L352.4 2089.9L339.4 2102.9L326.4 2089.9Z"/>
<path d="M353.9 2098.1L366.9 2111.1L353.9 2124.1L340.9 2111.1Z"/>
<path d="M340.4 1974.5L353.4 1987.5L340.4 2000.5L327.4 1987.5Z"/>
<path d="M360.3 2010.8L373.3 2023.8L360.3 2036.8L347.3 2023.8Z"/>
<path d="M355.8 2039.9L368.8 2052.9L355.8 2065.9L342.8 2052.9Z"/>
<path d="M327.2 2021.1L340.2 2034.1L327.2 2047.1L314.2 2034.1Z"/>
<path d="M331.0 2051.3L344.0 2064.3L331.0 2077.3L318.0 2064.3Z"/>
<path d="M342.0 2043.6L355.0 2056.6L342.0 2069.6L329.0 2056.6Z"/>
<path d="M330.4 2068.0L343.4 2081.0L330.4 2094.0L317.4 2081.0Z"/>
<path d="M335.4 2070.8L348.4 2083.8L335.4 2096.8L322.4 2083.8Z"/>
<path d="M351.6 1984.1L364.7 1997.1L351.6 2010.1L338.6 1997.1Z"/>
<path d="M333.2 2004.0L346.2 2017.1L333.2 2030.1L320.2 2017.1Z"/>
<path d="M353.5 2022.8L366.5 2035.8L353.5 2048.8L340.5 2035.8Z"/>
<path d="M340.5 2091.9L353.5 2104.9L340.5 2117.9L327.5 2104.9Z"/>
<path d="M334.0 2005.8L347.1 2018.8L334.0 2031.8L321.0 2018.8Z"/>
<path d="M338.8 1994.4L351.8 2007.4L338.8 2020.4L325.8 2007.4Z"/>
<path d="M350.2 2046.9L363.2 2059.9L350.2 2072.9L337.2 2059.9Z"/>
<path d="M336.9 2062.6L349.9 2075.6L336.9 2088.6L323.9 2075.6Z"/>
<path d="M352.6 2062.0L365.6 2075.0L352.6 2088.0L339.6 2075.0Z"/>
<path d="M334.4 2056.9L347.4 2069.9L334.4 2082.9L321.4 2069.9Z"/>
<path d="M328.6 2026.1L341.6 2039.2L328.6 2052.2L315.6 2039.2Z"/>
<path d="M340.7 1971.0L353.7 1984.0L340.7 1997.0L327.7 1984.0Z"/>
<path d="M340.3 2011.2L353.3 2024.2L340.3 2037.2L327.3 2024.2Z"/>
<path d="M344.9 2004.0L357.9 2017.0L344.9 2030.0L331.9 2017.0Z"/>
<path d="M331.3 2022.4L344.4 2035.4L331.3 2048.4L318.3 2035.4Z"/>
<path d="M344.0 1987.0L357.0 2000.0L344.0 2013.0L331.0 2000.0Z"/>
<path d="M351.6 1998.0L364.6 2011.0L351.6 2024.0L338.6 2011.0Z"/>
<path d="M328.7 2013.3L341.7 2026.3L328.7 2039.3L315.7 2026.3Z"/>
<path d="M341.9 1984.6L354.9 1997.6L341.9 2010.6L328.9 1997.6Z"/>
<path d="M348.3 2067.2L361.3 2080.2L348.3 2093.2L335.3 2080.2Z"/>
<path d="M347.1 2067.0L360.1 2080.0L347.1 2093.0L334.1 2080.0Z"/>
<path d="M325.9 2020.7L338.9 2033.7L325.9 2046.7L312.9 2033.7Z"/>
<path d="M339.6 1971.4L352.6 1984.4L339.6 1997.4L326.6 1984.4Z"/>
<path d="M341.2 1970.2L354.2 1983.2L341.2 1996.2L328.2 1983.2Z"/>
<path d="M344.8 2049.9L357.8 2062.9L344.8 2075.9L331.8 2062.9Z"/>
<path d="M343.8 2010.8L356.8 2023.8L343.8 2036.8L330.7 2023.8Z"/>
<path d="M338.9 2095.8L351.9 2108.8L338.9 2121.8L325.9 2108.8Z"/>
<path d="M347.6 2001.3L360.6 2014.3L347.6 2027.3L334.6 2014.3Z"/>
<path d="M351.7 1989.9L364.7 2002.9L351.7 2015.9L338.7 2002.9Z"/>
<path d="M343.8 2054.3L356.8 2067.3L343.8 2080.3L330.8 2067.3Z"/>
<path d="M363.2 2016.4L376.2 2029.4L363.2 2042.4L350.2 2029.4Z"/>
<path d="M348.0 2103.3L361.1 2116.4L348.0 2129.4L335.0 2116.4Z"/>
<path d="M355.9 2056.1L368.9 2069.1L355.9 2082.1L342.9 2069.1Z"/>
<path d="M349.8 2023.6L362.8 2036.6L349.8 2049.7L336.8 2036.6Z"/>
<path d="M341.6 2003.4L354.6 2016.4L341.6 2029.4L328.6 2016.4Z"/>
<path d="M340.3 2098.4L353.3 2111.4L340.3 2124.5L327.3 2111.4Z"/>
<path d="M345.3 2008.3L358.3 2021.3L345.3 2034.3L332.3 2021.3Z"/>
<path d="M339.4 2108.5L352.4 2121.5L339.4 2134.6L326.4 2121.5Z"/>
<path d="M331.0 1990.9L344.0 2003.9L331.0 2016.9L318.0 2003.9Z"/>
<path d="M334.1 2064.0L347.1 2077.0L334.1 2090.0L321.1 2077.0Z"/>
<path d="M346.8 2021.1L359.8 2034.1L346.8 2047.1L333.7 2034.1Z"/>
<path d="M334.6 2036.0L347.6 2049.0L334.6 2062.1L321.6 2049.0Z"/>
<path d="M351.0 2044.2L364.0 2057.2L351.0 2070.2L338.0 2057.2Z"/>
<path d="M350.0 2046.1L363.0 2059.1L350.0 2072.1L337.0 2059.1Z"/>
<path d="M338.3 2014.0L351.3 2027.0L338.3 2040.0L325.3 2027.0Z"/>
<path d="M360.5 2009.0L373.5 2022.0L360.5 2035.0L347.4 2022.0Z"/>
<path d="M353.6 2066.3L366.6 2079.3L353.6 2092.3L340.6 2079.3Z"/>
<path d="M358.0 1985.9L371.0 1998.9L358.0 2011.9L345.0 1998.9Z"/>
<path d="M378.8 2056.0L391.8 2069.0L378.8 2082.0L365.8 2069.0Z"/>
<path d="M375.6 2042.6L388.6 2055.6L375.6 2068.7L362.6 2055.6Z"/>
<path d="M360.0 2084.4L373.0 2097.4L360.0 2110.4L347.0 2097.4Z"/>
<path d="M373.9 2028.1L386.9 2041.1L373.9 2054.1L360.9 2041.1Z"/>
<path d="M358.0 2037.7L371.0 2050.7L358.0 2063.8L345.0 2050.7Z"/>
<path d="M354.0 2058.5L367.0 2071.5L354.0 2084.5L340.9 2071.5Z"/>
<path d="M383.5 2014.4L396.5 2027.4L383.5 2040.4L370.5 2027.4Z"/>
<path d="M369.3 2086.9L382.3 2099.9L369.3 2112.9L356.3 2099.9Z"/>
<path d="M370.9 2019.9L383.9 2032.9L370.9 2045.9L357.9 2032.9Z"/>
<path d="M372.4 2089.6L385.4 2102.6L372.4 2115.6L359.4 2102.6Z"/>
<path d="M366.0 2080.7L379.0 2093.8L366.0 2106.8L353.0 2093.8Z"/>
<path d="M358.1 2080.7L371.1 2093.7L358.1 2106.7L345.1 2093.7Z"/>
<path d="M362.3 2038.7L375.3 2051.7L362.3 2064.7L349.3 2051.7Z"/>
<path d="M386.5 2094.7L399.5 2107.7L386.5 2120.7L373.5 2107.7Z"/>
<path d="M390.4 2064.4L403.4 2077.4L390.4 2090.4L377.4 2077.4Z"/>
<path d="M367.6 2079.8L380.6 2092.8L367.6 2105.8L354.5 2092.8Z"/>
<path d="M378.9 2093.4L391.9 2106.4L378.9 2119.4L365.9 2106.4Z"/>
<path d="M388.9 2015.8L401.9 2028.8L388.9 2041.8L375.9 2028.8Z"/>
<path d="M365.1 2075.6L378.1 2088.6L365.1 2101.6L352.1 2088.6Z"/>
<path d="M356.9 2022.3L369.9 2035.3L356.9 2048.3L343.9 2035.3Z"/>
<path d="M344.8 2066.4L357.8 2079.4L344.8 2092.4L331.8 2079.4Z"/>
<path d="M351.5 2077.6L364.5 2090.6L351.5 2103.6L338.5 2090.6Z"/>
<path d="M367.5 2071.5L380.5 2084.5L367.5 2097.5L354.5 2084.5Z"/>
<path d="M366.2 2104.7L379.2 2117.7L366.2 2130.7L353.2 2117.7Z"/>
<path d="M383.9 2015.0L397.0 2028.0L383.9 2041.0L370.9 2028.0Z"/>
<path d="M350.7 2038.3L363.7 2051.3L350.7 2064.3L337.7 2051.3Z"/>
<path d="M345.5 2061.7L358.5 2074.7L345.5 2087.7L332.5 2074.7Z"/>
<path d="M371.1 2043.1L384.1 2056.1L371.1 2069.1L358.0 2056.1Z"/>
<path d="M361.3 2090.0L374.3 2103.1L361.3 2116.1L348.3 2103.1Z"/>
<path d="M391.0 2033.2L404.0 2046.2L391.0 2059.2L378.0 2046.2Z"/>
<path d="M365.9 2069.9L378.9 2083.0L365.9 2096.0L352.9 2083.0Z"/>
<path d="M365.8 2078.3L378.8 2091.3L365.8 2104.4L352.8 2091.3Z"/>
<path d="M374.6 2090.0L387.6 2103.0L374.6 2116.0L361.6 2103.0Z"/>
<path d="M352.2 2021.3L365.2 2034.3L352.2 2047.3L339.2 2034.3Z"/>
<path d="M358.1 2055.7L371.1 2068.7L358.1 2081.7L345.1 2068.7Z"/>
<path d="M350.7 2037.6L363.7 2050.6L350.7 2063.6L337.7 2050.6Z"/>
<path d="M345.1 2064.2L358.1 2077.3L345.1 2090.3L332.1 2077.3Z"/>
<path d="M352.0 2070.8L365.1 2083.8L352.0 2096.8L339.0 2083.8Z"/>
<path d="M359.3 2027.0L372.4 2040.0L359.3 2053.0L346.3 2040.0Z"/>
<path d="M371.0 2042.2L384.0 2055.2L371.0 2068.3L358.0 2055.2Z"/>
<path d="M361.3 2010.6L374.3 2023.6L361.3 2036.6L348.3 2023.6Z"/>
<path d="M354.2 2055.2L367.2 2068.2L354.2 2081.2L341.2 2068.2Z"/>
<path d="M392.6 2055.3L405.6 2068.3L392.6 2081.3L379.6 2068.3Z"/>
<path d="M364.2 2211.6L377.3 2224.6L364.2 2237.6L351.2 2224.6Z"/>
<path d="M363.4 2151.6L376.4 2164.6L363.4 2177.6L350.4 2164.6Z"/>
<path d="M370.2 2199.5L383.2 2212.6L370.2 2225.6L357.2 2212.6Z"/>
<path d="M373.4 2169.2L386.4 2182.2L373.4 2195.2L360.4 2182.2Z"/>
<path d="M389.7 2182.4L402.8 2195.5L389.7 2208.5L376.7 2195.5Z"/>
<path d="M382.7 2205.0L395.7 2218.0L382.7 2231.0L369.7 2218.0Z"/>
<path d="M349.3 2175.7L362.3 2188.7L349.3 2201.7L336.3 2188.7Z"/>
<path d="M379.2 2171.8L392.2 2184.8L379.2 2197.8L366.1 2184.8Z"/>
<path d="M368.6 2147.8L381.6 2160.8L368.6 2173.8L355.6 2160.8Z"/>
<path d="M346.5 2189.2L359.5 2202.2L346.5 2215.2L333.5 2202.2Z"/>
<path d="M381.6 2210.4L394.7 2223.4L381.6 2236.4L368.6 2223.4Z"/>
<path d="M378.4 2178.9L391.4 2191.9L378.4 2205.0L365.3 2191.9Z"/>
<path d="M381.3 2213.2L394.3 2226.2L381.3 2239.2L368.3 2226.2Z"/>
<path d="M363.7 2203.4L376.7 2216.4L363.7 2229.4L350.7 2216.4Z"/>
<path d="M357.0 2219.8L370.0 2232.8L357.0 2245.8L344.0 2232.8Z"/>
<path d="M347.0 2193.1L360.0 2206.1L347.0 2219.2L334.0 2206.1Z"/>
<path d="M356.0 2178.1L369.0 2191.1L356.0 2204.1L343.0 2191.1Z"/>
<path d="M362.3 2199.5L375.3 2212.6L362.3 2225.6L349.2 2212.6Z"/>
<path d="M381.7 2176.2L394.7 2189.2L381.7 2202.2L368.7 2189.2Z"/>
<path d="M374.1 2175.3L387.1 2188.3L374.1 2201.3L361.1 2188.3Z"/>
<path d="M368.3 2305.4L381.3 2318.4L368.3 2331.4L355.3 2318.4Z"/>
<path d="M370.2 2248.6L383.2 2261.6L370.2 2274.6L357.1 2261.6Z"/>
<path d="M370.7 2293.9L383.7 2306.9L370.7 2319.9L357.7 2306.9Z"/>
<path d="M365.3 2294.0L378.3 2307.0L365.3 2320.0L352.3 2307.0Z"/>
<path d="M380.0 2289.6L393.0 2302.6L380.0 2315.6L367.0 2302.6Z"/>
<path d="M362.3 2266.5L375.3 2279.5L362.3 2292.5L349.3 2279.5Z"/>
<path d="M375.0 2242.7L388.0 2255.7L375.0 2268.7L361.9 2255.7Z"/>
<path d="M378.1 2270.2L391.1 2283.2L378.1 2296.2L365.1 2283.2Z"/>
<path d="M370.1 2279.6L383.2 2292.6L370.1 2305.6L357.1 2292.6Z"/>
<path d="M375.6 1834.1L388.6 1847.1L375.6 1860.1L362.6 1847.1Z"/>
<path d="M370.4 1836.3L383.4 1849.3L370.4 1862.3L357.4 1849.3Z"/>
<path d="M365.6 1841.4L378.7 1854.4L365.6 1867.4L352.6 1854.4Z"/>
<path d="M357.9 1838.5L370.9 1851.5L357.9 1864.5L344.9 1851.5Z"/>
<path d="M347.1 1849.1L360.1 1862.1L347.1 1875.1L334.1 1862.1Z"/>
<path d="M340.9 1831.3L353.9 1844.3L340.9 1857.3L327.9 1844.3Z"/>
<path d="M369.5 1841.7L382.5 1854.7L369.5 1867.7L356.5 1854.7Z"/>
<path d="M362.5 1832.3L375.5 1845.3L362.5 1858.3L349.5 1845.3Z"/>
<path d="M372.7 1851.2L385.7 1864.2L372.7 1877.2L359.7 1864.2Z"/>
<path d="M340.7 1850.4L353.7 1863.4L340.7 1876.4L327.7 1863.4Z"/>
<path d="M346.5 1827.0L359.5 1840.0L346.5 1853.0L333.5 1840.0Z"/>
<path d="M361.7 1843.4L374.7 1856.4L361.7 1869.4L348.7 1856.4Z"/>
<path d="M341.8 1849.6L354.8 1862.6L341.8 1875.6L328.8 1862.6Z"/>
<path d="M364.0 1855.0L377.0 1868.0L364.0 1881.0L350.9 1868.0Z"/>
<path d="M380.3 1846.6L393.4 1859.6L380.3 1872.6L367.3 1859.6Z"/>
<path d="M353.5 1857.0L366.5 1870.0L353.5 1883.0L340.5 1870.0Z"/>
<path d="M370.5 1830.6L383.5 1843.6L370.5 1856.6L357.5 1843.6Z"/>
<path d="M377.2 1848.1L390.2 1861.1L377.2 1874.1L364.2 1861.1Z"/>
<path d="M348.7 1829.0L361.7 1842.0L348.7 1855.0L335.7 1842.0Z"/>
<path d="M337.0 1840.5L350.0 1853.5L337.0 1866.5L324.0 1853.5Z"/>
<path d="M348.2 1830.7L361.2 1843.7L348.2 1856.7L335.2 1843.7Z"/>
<path d="M348.1 1824.3L361.1 1837.3L348.1 1850.3L335.1 1837.3Z"/>
<path d="M359.3 1829.9L372.3 1842.9L359.3 1855.9L346.3 1842.9Z"/>
<path d="M349.7 1830.1L362.7 1843.1L349.7 1856.1L336.7 1843.1Z"/>
<path d="M360.4 1853.9L373.5 1867.0L360.4 1880.0L347.4 1867.0Z"/>
<path d="M343.7 1853.4L356.7 1866.4L343.7 1879.4L330.7 1866.4Z"/>
<path d="M377.0 1843.4L390.0 1856.4L377.0 1869.4L364.0 1856.4Z"/>
<rect x="263.0" y="1893.3" width="18.4" height="18.4"/>
<rect x="262.5" y="1891.3" width="18.4" height="18.4"/>
<rect x="282.6" y="1883.0" width="18.4" height="18.4"/>
<rect x="275.2" y="1879.3" width="18.4" height="18.4"/>
<rect x="258.4" y="1883.2" width="18.4" height="18.4"/>
<rect x="272.3" y="1899.2" width="18.4" height="18.4"/>
<rect x="261.1" y="1888.6" width="18.4" height="18.4"/>
<rect x="253.2" y="1879.3" width="18.4" height="18.4"/>
<rect x="282.8" y="1891.2" width="18.4" height="18.4"/>
<rect x="240.9" y="1888.6" width="18.4" height="18.4"/>
<rect x="251.3" y="1897.2" width="18.4" height="18.4"/>
<rect x="238.9" y="1891.5" width="18.4" height="18.4"/>
<rect x="264.3" y="1900.3" width="18.4" height="18.4"/>
<path d="M1227.6 1703.3L1239.6 1727.3L1215.6 1727.3Z"/>
<path d="M1217.0 1727.0L1229.0 1751.0L1205.0 1751.0Z"/>
<path d="M1243.1 1710.7L1255.1 1734.7L1231.1 1734.7Z"/>
<path d="M1258.6 1709.8L1270.6 1733.8L1246.6 1733.8Z"/>
<path d="M1238.2 1723.7L1250.2 1747.7L1226.2 1747.7Z"/>
<path d="M1266.8 1721.9L1278.8 1745.9L1254.8 1745.9Z"/>
<path d="M1262.7 1730.3L1274.7 1754.3L1250.7 1754.3Z"/>
<path d="M1274.1 1734.8L1286.1 1758.8L1262.1 1758.8Z"/>
<path d="M1238.2 1744.6L1250.2 1768.6L1226.2 1768.6Z"/>
<path d="M1250.4 1755.1L1262.4 1779.1L1238.4 1779.1Z"/>
<path d="M1287.2 1713.9L1299.2 1737.9L1275.2 1737.9Z"/>
<path d="M1292.1 1718.5L1304.1 1742.5L1280.1 1742.5Z"/>
<path d="M1306.8 1718.5L1318.8 1742.5L1294.8 1742.5Z"/>
<path d="M1326.4 1700.0L1338.4 1724.0L1314.4 1724.0Z"/>
<path d="M1323.1 1712.3L1335.1 1736.3L1311.1 1736.3Z"/>
<path d="M1329.6 1723.4L1341.6 1747.4L1317.6 1747.4Z"/>
<path d="M1361.5 1696.8L1373.5 1720.8L1349.5 1720.8Z"/>
<path d="M1368.8 1710.3L1380.8 1734.3L1356.8 1734.3Z"/>
<path d="M1388.4 1710.7L1400.4 1734.7L1376.4 1734.7Z"/>
<path d="M1368.0 1740.6L1380.0 1764.6L1356.0 1764.6Z"/>
<path d="M1377.0 1757.0L1389.0 1781.0L1365.0 1781.0Z"/>
<path d="M1367.2 1763.6L1379.2 1787.6L1355.2 1787.6Z"/>
<path d="M1365.6 1770.0L1377.6 1794.0L1353.6 1794.0Z"/>
<path d="M1307.6 1768.3L1319.6 1792.3L1295.6 1792.3Z"/>
<path d="M1305.1 1796.1L1317.1 1820.1L1293.1 1820.1Z"/>
<path d="M1324.8 1839.7L1336.8 1863.7L1312.8 1863.7Z"/>
<path d="M1378.6 1820.0L1390.6 1844.0L1366.6 1844.0Z"/>
<path d="M1401.5 1822.0L1413.5 1846.0L1389.5 1846.0Z"/>
<path d="M1534.5 1706.3L1546.5 1730.3L1522.5 1730.3Z"/>
<path d="M1535.7 1738.3L1547.7 1762.3L1523.7 1762.3Z"/>
<path d="M1552.0 1746.2L1564.0 1770.2L1540.0 1770.2Z"/>
<path d="M1167.2 1874.4L1179.2 1898.4L1155.2 1898.4Z"/>
<path d="M1260.8 1949.5L1272.8 1973.5L1248.8 1973.5Z"/>
<path d="M1479.2 2080.7L1491.2 2104.7L1467.2 2104.7Z"/>
<path d="M1475.1 2205.0L1487.1 2229.0L1463.1 2229.0Z"/>
<path d="M1450.6 2255.3L1462.6 2279.3L1438.6 2279.3Z"/>
<path d="M1227.4 2270.8L1239.4 2294.8L1215.4 2294.8Z"/>
<path d="M1396.3 1895.6L1408.3 1919.6L1384.3 1919.6Z"/>
<path d="M1408.9 1894.3L1420.9 1918.3L1396.9 1918.3Z"/>
<path d="M1401.4 1901.9L1413.4 1925.9L1389.4 1925.9Z"/>
<path d="M1403.2 1919.5L1415.2 1943.5L1391.2 1943.5Z"/>
<path d="M1433.4 1891.8L1445.4 1915.8L1421.4 1915.8Z"/>
<path d="M1467.9 1884.3L1479.9 1908.3L1455.9 1908.3Z"/>
<path d="M1491.8 1885.5L1503.8 1909.5L1479.8 1909.5Z"/>
<path d="M1489.3 1894.3L1501.3 1918.3L1477.3 1918.3Z"/>
<path d="M1454.1 1922.0L1466.1 1946.0L1442.1 1946.0Z"/>
<path d="M1490.6 1918.2L1502.6 1942.2L1478.6 1942.2Z"/>
<path d="M1424.0 1950.9L1436.0 1974.9L1412.0 1974.9Z"/>
<path d="M1392.6 1966.0L1404.6 1990.0L1380.6 1990.0Z"/>
<path d="M1404.5 1993.6L1416.5 2017.6L1392.5 2017.6Z"/>
<path d="M1454.1 2011.2L1466.1 2035.2L1442.1 2035.2Z"/>
<path d="M1474.2 1899.4L1486.2 1923.4L1462.2 1923.4Z"/>
<path d="M1528.8 1844.3L1540.8 1868.3L1516.8 1868.3Z"/>
<path d="M1526.5 1858.2L1538.5 1882.2L1514.5 1882.2Z"/>
<path d="M1511.5 1716.0L1523.5 1740.0L1499.5 1740.0Z"/>
<path d="M1500.4 1704.1L1512.4 1728.1L1488.4 1728.1Z"/>
<path d="M1520.9 1722.1L1532.9 1746.1L1508.9 1746.1Z"/>
<path d="M1469.9 1737.5L1481.9 1761.5L1457.9 1761.5Z"/>
<path d="M1449.6 1713.3L1461.6 1737.3L1437.6 1737.3Z"/>
<path d="M1493.6 1751.1L1505.6 1775.1L1481.6 1775.1Z"/>
<path d="M1462.4 1708.3L1474.4 1732.3L1450.4 1732.3Z"/>
<path d="M1447.0 1733.5L1459.0 1757.5L1435.0 1757.5Z"/>
<path d="M1467.3 1734.1L1479.3 1758.1L1455.3 1758.1Z"/>
<path d="M1452.7 1732.5L1464.7 1756.5L1440.7 1756.5Z"/>
<path d="M1489.3 1726.3L1501.3 1750.3L1477.3 1750.3Z"/>
<path d="M1484.0 1704.4L1496.0 1728.4L1472.0 1728.4Z"/>
<path d="M1507.7 1736.6L1519.7 1760.6L1495.7 1760.6Z"/>
<path d="M1473.9 1735.3L1485.9 1759.3L1461.9 1759.3Z"/>
<path d="M1470.9 1719.5L1482.9 1743.5L1458.9 1743.5Z"/>
<path d="M1454.2 1731.6L1466.2 1755.6L1442.2 1755.6Z"/>
<path d="M1484.4 1726.9L1496.4 1750.9L1472.4 1750.9Z"/>
<path d="M1436.8 1733.1L1448.8 1757.1L1424.8 1757.1Z"/>
<path d="M1473.3 1731.2L1485.3 1755.2L1461.3 1755.2Z"/>
<path d="M1486.3 1750.2L1498.3 1774.2L1474.3 1774.2Z"/>
<path d="M1447.4 1724.2L1459.4 1748.2L1435.4 1748.2Z"/>
<path d="M1461.5 1739.3L1473.5 1763.3L1449.5 1763.3Z"/>
<path d="M1521.1 1720.5L1533.1 1744.5L1509.1 1744.5Z"/>
<path d="M1521.1 1725.5L1533.1 1749.5L1509.1 1749.5Z"/>
<path d="M1454.6 1745.1L1466.6 1769.1L1442.6 1769.1Z"/>
<path d="M1491.1 1750.5L1503.1 1774.5L1479.1 1774.5Z"/>
<path d="M1507.0 1742.7L1519.0 1766.7L1495.0 1766.7Z"/>
<path d="M1479.0 1753.6L1491.0 1777.6L1467.0 1777.6Z"/>
<path d="M1496.6 1712.0L1508.6 1736.0L1484.6 1736.0Z"/>
<path d="M1505.0 1723.4L1517.0 1747.4L1493.0 1747.4Z"/>
<path d="M1481.2 1746.5L1493.2 1770.5L1469.2 1770.5Z"/>
<path d="M1451.2 1713.7L1463.2 1737.7L1439.2 1737.7Z"/>
<path d="M1490.6 1702.1L1502.6 1726.1L1478.6 1726.1Z"/>
<path d="M1482.8 1742.1L1494.8 1766.1L1470.8 1766.1Z"/>
<path d="M1477.2 1711.5L1489.2 1735.5L1465.2 1735.5Z"/>
<path d="M1504.4 1745.9L1516.4 1769.9L1492.4 1769.9Z"/>
<path d="M1501.8 1728.8L1513.8 1752.8L1489.8 1752.8Z"/>
<path d="M1447.4 1718.5L1459.4 1742.5L1435.4 1742.5Z"/>
<path d="M1464.4 1746.4L1476.4 1770.4L1452.4 1770.4Z"/>
<path d="M1450.0 1719.8L1462.0 1743.8L1438.0 1743.8Z"/>
<path d="M1508.7 1732.6L1520.7 1756.6L1496.7 1756.6Z"/>
<path d="M1489.4 1747.1L1501.4 1771.1L1477.4 1771.1Z"/>
<path d="M1498.0 1709.0L1510.0 1733.0L1486.0 1733.0Z"/>
<path d="M1492.8 1722.1L1504.8 1746.1L1480.8 1746.1Z"/>
<path d="M1461.7 1733.3L1473.7 1757.3L1449.7 1757.3Z"/>
<path d="M1458.5 1731.8L1470.5 1755.8L1446.5 1755.8Z"/>
<path d="M1495.1 1708.1L1507.1 1732.1L1483.1 1732.1Z"/>
<path d="M1445.3 1736.9L1457.3 1760.9L1433.3 1760.9Z"/>
<path d="M1475.0 1705.2L1487.0 1729.2L1463.0 1729.2Z"/>
<path d="M1487.7 1718.0L1499.7 1742.0L1475.7 1742.0Z"/>
<path d="M1494.9 1739.2L1506.9 1763.2L1482.9 1763.2Z"/>
<path d="M1465.7 1715.4L1477.7 1739.4L1453.7 1739.4Z"/>
<path d="M1469.9 1706.2L1481.9 1730.2L1457.9 1730.2Z"/>
<path d="M1489.5 1721.8L1501.5 1745.8L1477.5 1745.8Z"/>
<path d="M1506.2 1720.9L1518.2 1744.9L1494.2 1744.9Z"/>
<path d="M1474.2 1726.4L1486.2 1750.4L1462.2 1750.4Z"/>
<path d="M1516.9 1717.4L1528.9 1741.4L1504.9 1741.4Z"/>
<path d="M1495.9 1711.2L1507.9 1735.2L1483.9 1735.2Z"/>
<path d="M1485.0 1714.0L1497.0 1738.0L1473.0 1738.0Z"/>
<path d="M1510.8 1714.0L1522.8 1738.0L1498.8 1738.0Z"/>
<path d="M1509.2 1735.9L1521.2 1759.9L1497.2 1759.9Z"/>
<path d="M1474.0 1750.3L1486.0 1774.3L1462.0 1774.3Z"/>
<path d="M1468.1 1739.6L1480.1 1763.6L1456.1 1763.6Z"/>
<path d="M1486.9 1723.1L1498.9 1747.1L1474.9 1747.1Z"/>
<path d="M1439.6 1721.5L1451.6 1745.5L1427.6 1745.5Z"/>
<path d="M1458.8 1722.7L1470.8 1746.7L1446.8 1746.7Z"/>
<path d="M1518.0 1714.4L1530.0 1738.4L1506.0 1738.4Z"/>
<path d="M1495.2 1735.6L1507.2 1759.6L1483.2 1759.6Z"/>
<path d="M1455.5 1721.0L1467.5 1745.0L1443.5 1745.0Z"/>
<path d="M1456.1 1721.6L1468.1 1745.6L1444.1 1745.6Z"/>
<path d="M1418.3 1737.5L1430.3 1761.5L1406.3 1761.5Z"/>
<path d="M1436.6 1729.3L1448.6 1753.3L1424.6 1753.3Z"/>
<path d="M1425.7 1711.6L1437.7 1735.6L1413.7 1735.6Z"/>
<path d="M1419.1 1721.5L1431.1 1745.5L1407.1 1745.5Z"/>
<path d="M1432.0 1732.1L1444.0 1756.1L1420.0 1756.1Z"/>
<path d="M1418.4 1740.3L1430.4 1764.3L1406.4 1764.3Z"/>
<path d="M1428.8 1724.9L1440.8 1748.9L1416.8 1748.9Z"/>
<path d="M1419.0 1724.7L1431.0 1748.7L1407.0 1748.7Z"/>
<path d="M1417.4 1732.2L1429.4 1756.2L1405.4 1756.2Z"/>
<path d="M1427.8 1742.9L1439.8 1766.9L1415.8 1766.9Z"/>
<path d="M1420.2 1737.8L1432.2 1761.8L1408.2 1761.8Z"/>
<path d="M1429.4 1733.2L1441.4 1757.2L1417.4 1757.2Z"/>
<path d="M1454.7 1780.1L1466.7 1804.1L1442.7 1804.1Z"/>
<path d="M1481.8 1765.4L1493.8 1789.4L1469.8 1789.4Z"/>
<path d="M1441.8 1759.4L1453.8 1783.4L1429.8 1783.4Z"/>
<path d="M1445.3 1807.3L1457.3 1831.3L1433.3 1831.3Z"/>
<path d="M1480.9 1797.8L1492.9 1821.8L1468.9 1821.8Z"/>
<path d="M1493.9 1768.3L1505.9 1792.3L1481.9 1792.3Z"/>
<path d="M1503.6 1806.5L1515.6 1830.5L1491.6 1830.5Z"/>
<path d="M1498.6 1757.6L1510.6 1781.6L1486.6 1781.6Z"/>
<path d="M1455.6 1749.3L1467.6 1773.3L1443.6 1773.3Z"/>
<path d="M1439.2 1790.9L1451.2 1814.9L1427.2 1814.9Z"/>
<path d="M1464.7 1756.9L1476.7 1780.9L1452.7 1780.9Z"/>
<path d="M1500.5 1772.1L1512.5 1796.1L1488.5 1796.1Z"/>
<path d="M1461.0 1758.0L1473.0 1782.0L1449.0 1782.0Z"/>
<path d="M1469.5 1758.4L1481.5 1782.4L1457.5 1782.4Z"/>
<path d="M1402.4 1789.0L1414.4 1813.0L1390.4 1813.0Z"/>
<path d="M1431.2 1810.2L1443.2 1834.2L1419.2 1834.2Z"/>
<path d="M1424.5 1781.1L1436.5 1805.1L1412.5 1805.1Z"/>
<path d="M1453.2 1792.6L1465.2 1816.6L1441.2 1816.6Z"/>
<path d="M1454.3 1816.1L1466.3 1840.1L1442.3 1840.1Z"/>
<path d="M1463.5 1780.5L1475.5 1804.5L1451.5 1804.5Z"/>
<path d="M1475.7 1817.1L1487.7 1841.1L1463.7 1841.1Z"/>
<path d="M1524.9 1781.1L1536.9 1805.1L1512.9 1805.1Z"/>
<path d="M1504.6 1806.8L1516.6 1830.8L1492.6 1830.8Z"/>
<path d="M1489.8 1760.5L1501.8 1784.5L1477.8 1784.5Z"/>
<path d="M1464.4 1750.3L1476.4 1774.3L1452.4 1774.3Z"/>
<path d="M1405.4 1772.1L1417.4 1796.1L1393.4 1796.1Z"/>
<path d="M1525.3 1799.4L1537.3 1823.4L1513.3 1823.4Z"/>
<path d="M1448.3 1754.3L1460.3 1778.3L1436.3 1778.3Z"/>
<path d="M1426.5 1756.9L1438.5 1780.9L1414.5 1780.9Z"/>
<path d="M1518.6 1774.3L1530.6 1798.3L1506.6 1798.3Z"/>
<path d="M1458.5 1800.3L1470.5 1824.3L1446.5 1824.3Z"/>
<path d="M1469.5 1788.1L1481.5 1812.1L1457.5 1812.1Z"/>
<path d="M1516.5 1779.6L1528.5 1803.6L1504.5 1803.6Z"/>
<path d="M1431.9 1807.1L1443.9 1831.1L1419.9 1831.1Z"/>
<path d="M1426.2 1777.4L1438.2 1801.4L1414.2 1801.4Z"/>
<path d="M1450.1 1786.1L1462.1 1810.1L1438.1 1810.1Z"/>
<path d="M1440.2 1782.4L1452.2 1806.4L1428.2 1806.4Z"/>
<path d="M1453.1 1752.0L1465.1 1776.0L1441.1 1776.0Z"/>
<path d="M1463.9 1791.8L1475.9 1815.8L1451.9 1815.8Z"/>
<path d="M1446.0 1765.8L1458.0 1789.8L1434.0 1789.8Z"/>
<path d="M1403.9 1777.8L1415.9 1801.8L1391.9 1801.8Z"/>
<path d="M1434.0 1786.7L1446.0 1810.7L1422.0 1810.7Z"/>
<path d="M1422.2 1808.0L1434.2 1832.0L1410.2 1832.0Z"/>
<path d="M1458.2 1748.7L1470.2 1772.7L1446.2 1772.7Z"/>
<path d="M1446.9 1825.3L1458.9 1849.3L1434.9 1849.3Z"/>
<path d="M1524.5 1777.3L1536.5 1801.3L1512.5 1801.3Z"/>
<path d="M1473.7 1777.5L1485.7 1801.5L1461.7 1801.5Z"/>
<path d="M1432.2 1796.7L1444.2 1820.7L1420.2 1820.7Z"/>
<path d="M1472.5 1773.2L1484.5 1797.2L1460.5 1797.2Z"/>
<path d="M1394.9 1779.3L1406.9 1803.3L1382.9 1803.3Z"/>
<path d="M1370.6 1758.2L1382.6 1782.2L1358.6 1782.2Z"/>
<path d="M1381.2 1801.7L1393.2 1825.7L1369.2 1825.7Z"/>
<path d="M1390.5 1806.8L1402.5 1830.8L1378.5 1830.8Z"/>
<path d="M1389.1 1760.9L1401.1 1784.9L1377.1 1784.9Z"/>
<path d="M1405.8 1744.8L1417.8 1768.8L1393.8 1768.8Z"/>
<path d="M1384.7 1763.4L1396.7 1787.4L1372.7 1787.4Z"/>
<path d="M1414.2 1801.1L1426.2 1825.1L1402.2 1825.1Z"/>
<path d="M1403.5 1742.5L1415.5 1766.5L1391.5 1766.5Z"/>
<path d="M1402.5 1782.2L1414.5 1806.2L1390.5 1806.2Z"/>
<path d="M1420.6 1789.1L1432.6 1813.1L1408.6 1813.1Z"/>
<path d="M1410.2 1784.4L1422.2 1808.4L1398.2 1808.4Z"/>
<path d="M1390.1 1792.4L1402.1 1816.4L1378.1 1816.4Z"/>
<path d="M1463.2 1877.6L1475.2 1901.6L1451.2 1901.6Z"/>
<path d="M1458.2 1856.3L1470.2 1880.3L1446.2 1880.3Z"/>
<path d="M1463.0 1833.3L1475.0 1857.3L1451.0 1857.3Z"/>
<path d="M1453.6 1876.4L1465.6 1900.4L1441.6 1900.4Z"/>
<path d="M1494.7 1871.6L1506.7 1895.6L1482.7 1895.6Z"/>
<path d="M1471.8 1832.9L1483.8 1856.9L1459.8 1856.9Z"/>
<path d="M1437.5 1846.7L1449.5 1870.7L1425.5 1870.7Z"/>
<path d="M1504.3 1864.2L1516.3 1888.2L1492.3 1888.2Z"/>
<path d="M1461.2 1862.5L1473.2 1886.5L1449.2 1886.5Z"/>
<path d="M1497.9 1858.1L1509.9 1882.1L1485.9 1882.1Z"/>
<path d="M1430.5 1855.2L1442.5 1879.2L1418.5 1879.2Z"/>
<path d="M1458.2 1872.2L1470.2 1896.2L1446.2 1896.2Z"/>
<path d="M1502.3 1859.6L1514.3 1883.6L1490.3 1883.6Z"/>
<path d="M1483.2 1852.2L1495.2 1876.2L1471.2 1876.2Z"/>
<path d="M1490.3 1832.4L1502.3 1856.4L1478.3 1856.4Z"/>
<path d="M1487.4 1836.7L1499.4 1860.7L1475.4 1860.7Z"/>
<path d="M1474.9 1839.1L1486.9 1863.1L1462.9 1863.1Z"/>
<path d="M1455.7 1836.5L1467.7 1860.5L1443.7 1860.5Z"/>
<path d="M1456.0 1866.4L1468.0 1890.4L1444.0 1890.4Z"/>
<path d="M1469.6 1852.2L1481.6 1876.2L1457.6 1876.2Z"/>
<path d="M1473.9 1884.0L1485.9 1908.0L1461.9 1908.0Z"/>
<path d="M1456.7 1865.9L1468.7 1889.9L1444.7 1889.9Z"/>
<path d="M1466.4 1893.6L1478.4 1917.6L1454.4 1917.6Z"/>
<path d="M1454.2 1873.8L1466.2 1897.8L1442.2 1897.8Z"/>
<path d="M1446.7 1843.3L1458.7 1867.3L1434.7 1867.3Z"/>
<path d="M1486.4 1865.2L1498.4 1889.2L1474.4 1889.2Z"/>
<path d="M1448.6 1829.5L1460.6 1853.5L1436.6 1853.5Z"/>
</g>
<rect x="276.9" y="1669.2" width="113.2" height="82.6" fill="#008000" fill-opacity="0.33" stroke="#008000" stroke-opacity="0.45" stroke-width="2.4"/>
<rect x="615.6" y="1669.2" width="23.2" height="82.6" fill="#4169e1" fill-opacity="0.38" stroke="#4169e1" stroke-opacity="0.5" stroke-width="2.4"/>
<rect x="1069.1" y="1669.2" width="113.2" height="82.6" fill="#008000" fill-opacity="0.33" stroke="#008000" stroke-opacity="0.45" stroke-width="2.4"/>
<rect x="1408.3" y="1669.2" width="22.7" height="82.6" fill="#4169e1" fill-opacity="0.38" stroke="#4169e1" stroke-opacity="0.5" stroke-width="2.4"/>
<circle cx="278.5" cy="1832.5" r="6.9" fill="#D81B60" stroke="#111" stroke-width="1.2"/>
<circle cx="327.8" cy="1812.7" r="7.5" fill="#D81B60" stroke="#111" stroke-width="1.2"/>
<circle cx="316.5" cy="1820.8" r="10.0" fill="#D81B60" stroke="#111" stroke-width="1.2"/>
<circle cx="377.5" cy="1800.5" r="8.5" fill="#D81B60" stroke="#111" stroke-width="1.2"/>
<circle cx="384.4" cy="1820.2" r="6.9" fill="#D81B60" stroke="#111" stroke-width="1.2"/>
<circle cx="383.1" cy="1830.3" r="8.8" fill="#D81B60" stroke="#111" stroke-width="1.2"/>
<circle cx="357.4" cy="1831.5" r="7.5" fill="#D81B60" stroke="#111" stroke-width="1.2"/>
<circle cx="341.7" cy="1837.8" r="6.9" fill="#D81B60" stroke="#111" stroke-width="1.2"/>
<circle cx="354.8" cy="1841.6" r="6.3" fill="#D81B60" stroke="#111" stroke-width="1.2"/>
<circle cx="371.2" cy="1836.5" r="5.0" fill="#D81B60" stroke="#111" stroke-width="1.2"/>
<circle cx="378.1" cy="1841.6" r="6.9" fill="#D81B60" stroke="#111" stroke-width="1.2"/>
<circle cx="340.4" cy="1850.4" r="11.3" fill="#D81B60" stroke="#111" stroke-width="1.2"/>
<circle cx="370.6" cy="1850.4" r="6.3" fill="#D81B60" stroke="#111" stroke-width="1.2"/>
<circle cx="366.8" cy="1855.4" r="6.9" fill="#D81B60" stroke="#111" stroke-width="1.2"/>
<circle cx="359.2" cy="1856.6" r="5.7" fill="#D81B60" stroke="#111" stroke-width="1.2"/>
<circle cx="386.5" cy="1893.0" r="12.0" fill="#D81B60" stroke="#111" stroke-width="1.2"/>
<circle cx="398.5" cy="1922.2" r="11.0" fill="#D81B60" stroke="#111" stroke-width="1.2"/>
<circle cx="352.0" cy="1915.0" r="16.0" fill="#D81B60" stroke="#111" stroke-width="1.2"/>
<circle cx="372.0" cy="1915.0" r="16.0" fill="#D81B60" stroke="#111" stroke-width="1.2"/>
<circle cx="340.0" cy="1945.0" r="14.0" fill="#D81B60" stroke="#111" stroke-width="1.2"/>
<circle cx="395.0" cy="1908.0" r="13.0" fill="#D81B60" stroke="#111" stroke-width="1.2"/>
<circle cx="390.4" cy="1916.5" r="17.0" fill="#D81B60" stroke="#111" stroke-width="1.2"/>
<circle cx="362.4" cy="1898.1" r="18.1" fill="#D81B60" stroke="#111" stroke-width="1.2"/>
<circle cx="344.8" cy="1888.0" r="24.1" fill="#D81B60" stroke="#111" stroke-width="1.2"/>
<circle cx="347.3" cy="1932.3" r="13.0" fill="#D81B60" stroke="#111" stroke-width="1.2"/>
<circle cx="373.4" cy="1943.3" r="22.0" fill="#D81B60" stroke="#111" stroke-width="1.2"/>
<circle cx="385.5" cy="1930.3" r="20.1" fill="#D81B60" stroke="#111" stroke-width="1.2"/>
<circle cx="332.2" cy="1967.4" r="13.0" fill="#D81B60" stroke="#111" stroke-width="1.2"/>
<circle cx="373.4" cy="1969.4" r="16.0" fill="#D81B60" stroke="#111" stroke-width="1.2"/>
<circle cx="354.3" cy="1972.5" r="18.1" fill="#D81B60" stroke="#111" stroke-width="1.2"/>
<circle cx="402.6" cy="1965.4" r="13.0" fill="#D81B60" stroke="#111" stroke-width="1.2"/>
<circle cx="399.0" cy="1997.6" r="9.5" fill="#D81B60" stroke="#111" stroke-width="1.2"/>
<circle cx="1375.2" cy="1811.0" r="18.1" fill="#1E88E5" stroke="#111" stroke-width="1.2"/>
<circle cx="1437.2" cy="1829.4" r="15.0" fill="#1E88E5" stroke="#111" stroke-width="1.2"/>
<circle cx="1471.5" cy="1811.0" r="15.0" fill="#1E88E5" stroke="#111" stroke-width="1.2"/>
<circle cx="1456.5" cy="1790.7" r="14.1" fill="#1E88E5" stroke="#111" stroke-width="1.2"/>
<circle cx="1475.0" cy="1784.6" r="14.1" fill="#1E88E5" stroke="#111" stroke-width="1.2"/>
<circle cx="1475.8" cy="1797.8" r="13.2" fill="#1E88E5" stroke="#111" stroke-width="1.2"/>
<circle cx="1497.0" cy="1782.8" r="8.0" fill="#1E88E5" stroke="#111" stroke-width="1.2"/>
<circle cx="1492.6" cy="1792.5" r="10.6" fill="#1E88E5" stroke="#111" stroke-width="1.2"/>
<circle cx="1507.5" cy="1786.4" r="11.4" fill="#1E88E5" stroke="#111" stroke-width="1.2"/>
<circle cx="1511.0" cy="1825.0" r="9.7" fill="#1E88E5" stroke="#111" stroke-width="1.2"/>
<circle cx="1511.0" cy="1805.7" r="10.6" fill="#1E88E5" stroke="#111" stroke-width="1.2"/>
<circle cx="1523.3" cy="1804.0" r="10.6" fill="#1E88E5" stroke="#111" stroke-width="1.2"/>
<circle cx="1528.6" cy="1827.7" r="15.0" fill="#1E88E5" stroke="#111" stroke-width="1.2"/>
<circle cx="1463.2" cy="1920.8" r="7.8" fill="#1E88E5" stroke="#111" stroke-width="1.2"/>
<circle cx="1479.5" cy="1944.3" r="16.7" fill="#1E88E5" stroke="#111" stroke-width="1.2"/>
<circle cx="1410.2" cy="1978.3" r="10.4" fill="#1E88E5" stroke="#111" stroke-width="1.2"/>
<circle cx="1443.8" cy="1986.1" r="9.0" fill="#1E88E5" stroke="#111" stroke-width="1.2"/>
<circle cx="1525.1" cy="2007.1" r="16.3" fill="#1E88E5" stroke="#111" stroke-width="1.2"/>
<circle cx="1436.5" cy="2014.1" r="9.0" fill="#1E88E5" stroke="#111" stroke-width="1.2"/>
<circle cx="1484.9" cy="2027.2" r="14.8" fill="#1E88E5" stroke="#111" stroke-width="1.2"/>
<circle cx="1469.8" cy="2148.6" r="10.3" fill="#1E88E5" stroke="#111" stroke-width="1.2"/>
<circle cx="1490.6" cy="2143.5" r="14.1" fill="#1E88E5" stroke="#111" stroke-width="1.2"/>
<line x1="333.6" y1="1760.5" x2="333.6" y2="2139" stroke="#ff8c00" stroke-width="3.6" stroke-dasharray="18.5 3.5"/>
<polyline points="325.2,2127.5 333.6,2142.5 342,2127.5" fill="none" stroke="#ff8c00" stroke-width="3.6" stroke-linejoin="miter"/>
<line x1="288" y1="2321.3" x2="465" y2="2321.3" stroke="#000" stroke-width="5.6"/>
<polygon points="304.5,2313 287.3,2321.3 304.5,2329.6 300,2321.3" fill="#000" stroke="#000" stroke-width="5" stroke-linejoin="round"/>
<polygon points="448.3,2313 465.5,2321.3 448.3,2329.6 452.8,2321.3" fill="#000" stroke="#000" stroke-width="5" stroke-linejoin="round"/>
<line x1="1434" y1="2321.2" x2="1581" y2="2321.2" stroke="#666" stroke-width="5.2"/>
<polygon points="1449.5,2313 1432.7,2321.2 1449.5,2329.4 1445,2321.2" fill="#666" stroke="#666" stroke-width="4.8" stroke-linejoin="round"/>
<polygon points="1565.5,2313 1582.3,2321.2 1565.5,2329.4 1570,2321.2" fill="#666" stroke="#666" stroke-width="4.8" stroke-linejoin="round"/>
<text x="409.8" y="1691.4" font-size="24" text-anchor="start" font-weight="normal" fill="#1f7a2a" stroke="#1f7a2a" stroke-width="0.35" textLength="116.2" lengthAdjust="spacingAndGlyphs" >C3 Plants</text>
<text x="655.2" y="1691.6" font-size="24" text-anchor="start" font-weight="normal" fill="#3f5fd8" stroke="#3f5fd8" stroke-width="0.35" textLength="141.3" lengthAdjust="spacingAndGlyphs" >Atmosphere</text>
<text x="1201.1" y="1691.4" font-size="24" text-anchor="start" font-weight="normal" fill="#1f7a2a" stroke="#1f7a2a" stroke-width="0.35" textLength="117.0" lengthAdjust="spacingAndGlyphs" >C3 Plants</text>
<text x="1446.8" y="1691.4" font-size="24" text-anchor="start" font-weight="normal" fill="#3f5fd8" stroke="#3f5fd8" stroke-width="0.35" textLength="141.6" lengthAdjust="spacingAndGlyphs" >Atmosphere</text>
<text x="475.1" y="1808.1" font-size="24" text-anchor="start" font-weight="normal" fill="#f08a12" stroke="#f08a12" stroke-width="0.35" textLength="133.4" lengthAdjust="spacingAndGlyphs" >Recent Soil</text>
<text x="475.6" y="2099.6" font-size="24" text-anchor="start" font-weight="normal" fill="#f08a12" stroke="#f08a12" stroke-width="0.35" textLength="113.5" lengthAdjust="spacingAndGlyphs" >Aged Soil</text>
<text x="474.9" y="2328.0" font-size="24" text-anchor="start" font-weight="normal" fill="#111" stroke="#111" stroke-width="0.35" textLength="125.9" lengthAdjust="spacingAndGlyphs" >Petrogenic</text>
<text x="1358.4" y="2304.1" font-size="24" text-anchor="start" font-weight="normal" fill="#666" stroke="#666" stroke-width="0.35" textLength="293.1" lengthAdjust="spacingAndGlyphs" >Deep Mantle Outgassing</text>
<text x="187.2" y="1727.5" font-size="40" fill="#1a1a1a" stroke="#1a1a1a" stroke-width="0.55" textLength="45.6" lengthAdjust="spacingAndGlyphs">(c)</text>
<text x="977.9" y="1727.5" font-size="40" fill="#1a1a1a" stroke="#1a1a1a" stroke-width="0.55" textLength="51.8" lengthAdjust="spacingAndGlyphs">(d)</text>
<rect x="605.2" y="2127" width="252.7" height="207.8" rx="5" fill="#ffffff" fill-opacity="0.8" stroke="#cccccc" stroke-width="1.6"/>
<text x="695.6" y="2157.2" font-size="30" text-anchor="start" font-weight="normal" fill="#1a1a1a" stroke="#1a1a1a" stroke-width="0.55" textLength="148.8" lengthAdjust="spacingAndGlyphs" >POC Conc</text>
<circle cx="644.8" cy="2201.2" r="11.4" fill="#D81B60" stroke="#111" stroke-width="1.2"/>
<text x="695.6" y="2210.8" font-size="28" text-anchor="start" font-weight="normal" fill="#1a1a1a" stroke="#1a1a1a" stroke-width="0.55" textLength="54.2" lengthAdjust="spacingAndGlyphs" >0.15</text>
<circle cx="644.8" cy="2255.2" r="15.1" fill="#D81B60" stroke="#111" stroke-width="1.2"/>
<text x="695.6" y="2264.8" font-size="28" text-anchor="start" font-weight="normal" fill="#1a1a1a" stroke="#1a1a1a" stroke-width="0.55" textLength="54.2" lengthAdjust="spacingAndGlyphs" >0.30</text>
<circle cx="644.8" cy="2309.0" r="20.6" fill="#D81B60" stroke="#111" stroke-width="1.2"/>
<text x="695.6" y="2318.6" font-size="28" text-anchor="start" font-weight="normal" fill="#1a1a1a" stroke="#1a1a1a" stroke-width="0.55" textLength="54.2" lengthAdjust="spacingAndGlyphs" >0.60</text>
<rect x="970.2" y="2127" width="243.1" height="207.8" rx="5" fill="#ffffff" fill-opacity="0.8" stroke="#cccccc" stroke-width="1.6"/>
<text x="1060.6" y="2157.2" font-size="30" text-anchor="start" font-weight="normal" fill="#1a1a1a" stroke="#1a1a1a" stroke-width="0.55" textLength="139.5" lengthAdjust="spacingAndGlyphs" >DIC Conc</text>
<circle cx="1009.8" cy="2201.2" r="10.2" fill="#1E88E5" stroke="#111" stroke-width="1.2"/>
<text x="1060.6" y="2210.8" font-size="28" text-anchor="start" font-weight="normal" fill="#1a1a1a" stroke="#1a1a1a" stroke-width="0.55" textLength="15.5" lengthAdjust="spacingAndGlyphs" >2</text>
<circle cx="1009.8" cy="2255.2" r="15.0" fill="#1E88E5" stroke="#111" stroke-width="1.2"/>
<text x="1060.6" y="2264.8" font-size="28" text-anchor="start" font-weight="normal" fill="#1a1a1a" stroke="#1a1a1a" stroke-width="0.55" textLength="15.5" lengthAdjust="spacingAndGlyphs" >4</text>
<circle cx="1009.8" cy="2309.0" r="22.0" fill="#1E88E5" stroke="#111" stroke-width="1.2"/>
<text x="1060.6" y="2318.6" font-size="28" text-anchor="start" font-weight="normal" fill="#1a1a1a" stroke="#1a1a1a" stroke-width="0.55" textLength="15.5" lengthAdjust="spacingAndGlyphs" >8</text>
<rect x="163.4" y="3.7" width="1499.9" height="684.5" fill="none" stroke="#cccccc" stroke-width="3.3"/>
<rect x="163.4" y="834.9" width="1499.9" height="684.5" fill="none" stroke="#cccccc" stroke-width="3.3"/>
<rect x="163.6" y="1665.8" width="707.9" height="683.4" fill="none" stroke="#cccccc" stroke-width="3.3"/>
<rect x="955.8" y="1665.8" width="707.9" height="683.4" fill="none" stroke="#cccccc" stroke-width="3.3"/></svg></body></html>
